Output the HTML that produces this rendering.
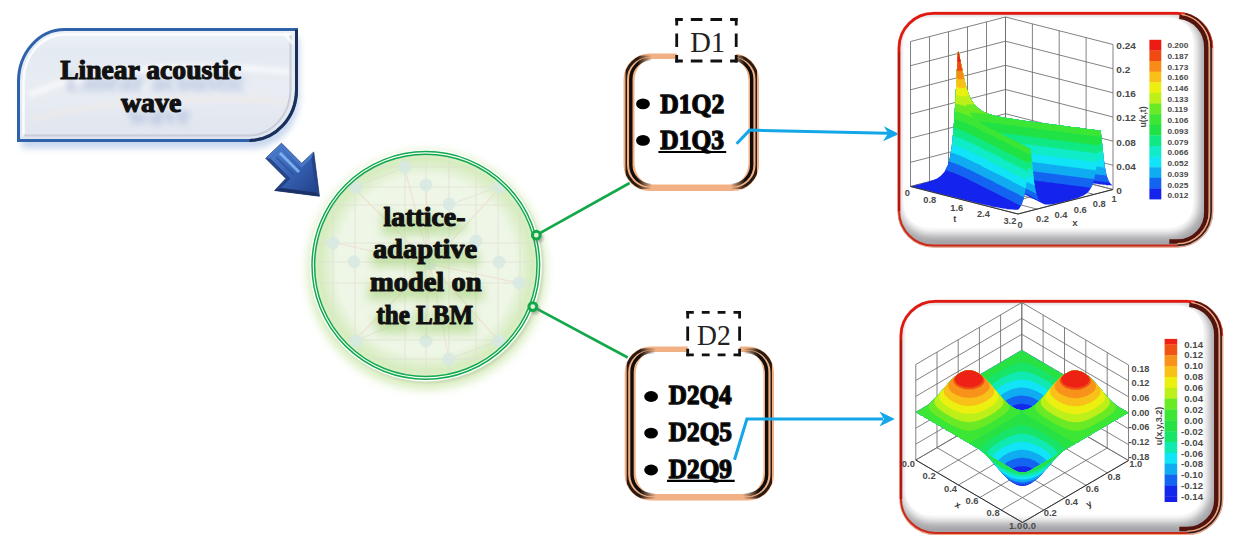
<!DOCTYPE html><html><head><meta charset="utf-8"><style>
html,body{margin:0;padding:0;background:#fff;width:1235px;height:555px;overflow:hidden}
svg{position:absolute;left:0;top:0}
</style></head><body>
<svg width="1235" height="555" viewBox="0 0 1235 555">
<defs>
<linearGradient id="boxfill" x1="0" y1="0" x2="0" y2="1">
<stop offset="0" stop-color="#eef2f7"/><stop offset="0.2" stop-color="#e4eaf2"/>
<stop offset="0.55" stop-color="#e9edf3"/><stop offset="1" stop-color="#dfe4ee"/></linearGradient>
<linearGradient id="arrowg" x1="0" y1="0" x2="1" y2="1">
<stop offset="0" stop-color="#4f7fd0"/><stop offset="0.5" stop-color="#3762b4"/><stop offset="1" stop-color="#22428c"/></linearGradient>
<radialGradient id="circg" cx="0.5" cy="0.5" r="0.5">
<stop offset="0" stop-color="#f1f7ea"/><stop offset="0.78" stop-color="#eef6e6"/>
<stop offset="0.93" stop-color="#d6ecbe"/><stop offset="1" stop-color="#e4f2d6"/></radialGradient>
<filter id="blur2" x="-20%" y="-20%" width="140%" height="140%"><feGaussianBlur stdDeviation="2"/></filter>
<filter id="blur4" x="-20%" y="-20%" width="140%" height="140%"><feGaussianBlur stdDeviation="4"/></filter>
<filter id="blur1" x="-20%" y="-20%" width="140%" height="140%"><feGaussianBlur stdDeviation="1"/></filter>
<filter id="blur3" x="-20%" y="-50%" width="140%" height="200%"><feGaussianBlur stdDeviation="3"/></filter>
<filter id="blur5" x="-30%" y="-80%" width="160%" height="260%"><feGaussianBlur stdDeviation="5"/></filter>
<linearGradient id="sidemaskg" x1="0" y1="0" x2="1" y2="0">
<stop offset="0" stop-color="#fff"/><stop offset="0.09" stop-color="#fff"/><stop offset="0.2" stop-color="#000"/>
<stop offset="0.8" stop-color="#000"/><stop offset="0.91" stop-color="#fff"/><stop offset="1" stop-color="#fff"/></linearGradient>
<mask id="sidemask" maskContentUnits="objectBoundingBox"><rect x="0" y="0" width="1" height="1" fill="url(#sidemaskg)"/></mask>
<clipPath id="circclip"><circle cx="425.8" cy="265.4" r="112"/></clipPath>
</defs>

<path d="M18.5,140.5 L18.5,81.5 A46,52 0 0 1 64.5,29.5 L296.5,29.5 L296.5,89.5 A47,51 0 0 1 249.5,140.5 Z" transform="translate(3,8)" fill="#b8cbe8" opacity="0.75" filter="url(#blur3)"/>
<path d="M18.5,140.5 L18.5,81.5 A46,52 0 0 1 64.5,29.5 L296.5,29.5 L296.5,89.5 A47,51 0 0 1 249.5,140.5 Z" fill="url(#boxfill)"/>
<path d="M30,95 C80,70 180,60 290,72" stroke="#ffffff" stroke-width="6" fill="none" opacity="0.6" filter="url(#blur2)"/>
<path d="M30,120 C100,100 200,95 290,102" stroke="#f5e8e0" stroke-width="4" fill="none" opacity="0.5" filter="url(#blur2)"/>
<path d="M18.5,140.5 L18.5,81.5 A46,52 0 0 1 64.5,29.5 L296.5,29.5 L296.5,89.5 A47,51 0 0 1 249.5,140.5 Z" fill="none" stroke="#2f62aa" stroke-width="3"/>
<path d="M296.5,29.5 L296.5,89.5 A47,51 0 0 1 249.5,140.5" fill="none" stroke="#1b3058" stroke-width="3"/>
<path d="M23.5,136.5 L23.5,81.5 A41,47 0 0 1 64.5,34.5 L290.5,34.5" fill="none" stroke="#ffffff" stroke-width="2.5" opacity="0.85"/>
<path d="M290.5,35.5 L290.5,89.5 A42,46 0 0 1 249.5,135.5 L23.5,135.5" fill="none" stroke="#c0c6d2" stroke-width="2" opacity="0.8"/>
<path d="M284.5,33.5 L292.5,43.5" stroke="#ffffff" stroke-width="3" opacity="0.7"/>
<g filter="url(#blur3)" opacity="0.45"><text transform="translate(65.53,91) scale(0.9829,1)" font-family='"Liberation Serif", serif' font-size="28" font-weight="bold" fill="#7890c8">Linear acoustic</text><text transform="translate(127.92,124) scale(1.0361,1)" font-family='"Liberation Serif", serif' font-size="28" font-weight="bold" fill="#7890c8">wave</text></g>
<text transform="translate(60.13,78.8) scale(0.9867,1)" font-family='"Liberation Serif", serif' font-size="28" font-weight="bold" fill="#111" stroke="#111" stroke-width="1.2" stroke-linejoin="round">Linear acoustic</text>
<text transform="translate(120.92,111.5) scale(0.9960,1)" font-family='"Liberation Serif", serif' font-size="28" font-weight="bold" fill="#111" stroke="#111" stroke-width="1.2" stroke-linejoin="round">wave</text>
<polygon points="281.5,143.2 301.7,163.4 313.7,152 319.4,196.2 274.6,190.5 285.9,178.5 265.7,158.3" fill="#23458a" stroke="#1a3368" stroke-width="0.8"/>
<polygon points="281.5,143.2 301.7,163.4 313.7,152 311.3,158.7 301.6,167.9 281.4,147.7 270.3,158.4 265.7,158.3" fill="#4a78c8"/>
<polygon points="281.4,147.7 270.3,158.4 290.4,178.4 281.2,188.1 315.7,192.5 311.3,158.7 301.6,167.9" fill="url(#arrowg)"/>
<polygon points="274.6,190.5 319.4,196.2 315.7,192.5 281.2,188.1" fill="#1a3268"/>
<polyline points="280,153 299,172" stroke="#90c8ff" stroke-width="3" opacity="0.75"/>
<polyline points="276,157 294,175" stroke="#2a4f98" stroke-width="2" opacity="0.6"/>
<circle cx="426.8" cy="270.4" r="119.5" fill="#d2eab4" opacity="0.85" filter="url(#blur5)"/>
<circle cx="425.8" cy="265.4" r="114.5" fill="url(#circg)"/>
<g clip-path="url(#circclip)" opacity="0.65"><line x1="300" y1="167" x2="550" y2="167" stroke="#deded4" stroke-width="1.1"/><line x1="300" y1="187" x2="550" y2="187" stroke="#deded4" stroke-width="1.1"/><line x1="300" y1="205" x2="550" y2="205" stroke="#deded4" stroke-width="1.1"/><line x1="300" y1="243" x2="550" y2="243" stroke="#deded4" stroke-width="1.1"/><line x1="300" y1="262" x2="550" y2="262" stroke="#deded4" stroke-width="1.1"/><line x1="300" y1="283" x2="550" y2="283" stroke="#deded4" stroke-width="1.1"/><line x1="300" y1="340" x2="550" y2="340" stroke="#deded4" stroke-width="1.1"/><line x1="300" y1="359" x2="550" y2="359" stroke="#deded4" stroke-width="1.1"/><line x1="333" y1="140" x2="333" y2="390" stroke="#deded4" stroke-width="1.1"/><line x1="355" y1="140" x2="355" y2="390" stroke="#deded4" stroke-width="1.1"/><line x1="405" y1="140" x2="405" y2="390" stroke="#deded4" stroke-width="1.1"/><line x1="426" y1="140" x2="426" y2="390" stroke="#deded4" stroke-width="1.1"/><line x1="449" y1="140" x2="449" y2="390" stroke="#deded4" stroke-width="1.1"/><line x1="476" y1="140" x2="476" y2="390" stroke="#deded4" stroke-width="1.1"/><line x1="498" y1="140" x2="498" y2="390" stroke="#deded4" stroke-width="1.1"/><line x1="520" y1="140" x2="520" y2="390" stroke="#deded4" stroke-width="1.1"/><line x1="355" y1="187" x2="405" y2="167" stroke="#deded4" stroke-width="1.1"/><line x1="449" y1="205" x2="498" y2="187" stroke="#deded4" stroke-width="1.1"/><line x1="355" y1="341" x2="405" y2="320" stroke="#deded4" stroke-width="1.1"/><line x1="449" y1="359" x2="498" y2="341" stroke="#deded4" stroke-width="1.1"/><line x1="430" y1="264" x2="405" y2="170" stroke="#f0d8c8" stroke-width="1.2"/><line x1="430" y1="264" x2="426" y2="190" stroke="#f0d8c8" stroke-width="1.2"/><line x1="430" y1="264" x2="498" y2="190" stroke="#f0d8c8" stroke-width="1.2"/><line x1="430" y1="264" x2="336" y2="243" stroke="#f0d8c8" stroke-width="1.2"/><line x1="430" y1="264" x2="519" y2="283" stroke="#f0d8c8" stroke-width="1.2"/><line x1="430" y1="264" x2="355" y2="340" stroke="#f0d8c8" stroke-width="1.2"/><line x1="430" y1="264" x2="426" y2="340" stroke="#f0d8c8" stroke-width="1.2"/><line x1="430" y1="264" x2="498" y2="340" stroke="#f0d8c8" stroke-width="1.2"/><line x1="430" y1="264" x2="449" y2="359" stroke="#f0d8c8" stroke-width="1.2"/><line x1="430" y1="264" x2="356" y2="190" stroke="#f0d8c8" stroke-width="1.2"/></g>
<g clip-path="url(#circclip)"><circle cx="405" cy="167" r="6.5" fill="#d6e8e4" opacity="0.8"/><circle cx="356" cy="187" r="6.5" fill="#d6e8e4" opacity="0.8"/><circle cx="426" cy="185" r="6.5" fill="#d6e8e4" opacity="0.8"/><circle cx="449" cy="204" r="6.5" fill="#d6e8e4" opacity="0.8"/><circle cx="499" cy="187" r="6.5" fill="#d6e8e4" opacity="0.8"/><circle cx="333" cy="243" r="6.5" fill="#d6e8e4" opacity="0.8"/><circle cx="354" cy="262" r="6.5" fill="#d6e8e4" opacity="0.8"/><circle cx="430" cy="264" r="6.5" fill="#d6e8e4" opacity="0.8"/><circle cx="476" cy="241" r="6.5" fill="#d6e8e4" opacity="0.8"/><circle cx="499" cy="262" r="6.5" fill="#d6e8e4" opacity="0.8"/><circle cx="519" cy="283" r="6.5" fill="#d6e8e4" opacity="0.8"/><circle cx="356" cy="341" r="6.5" fill="#d6e8e4" opacity="0.8"/><circle cx="426" cy="341" r="6.5" fill="#d6e8e4" opacity="0.8"/><circle cx="499" cy="341" r="6.5" fill="#d6e8e4" opacity="0.8"/><circle cx="449" cy="359" r="6.5" fill="#d6e8e4" opacity="0.8"/></g>
<g filter="url(#blur5)" opacity="0.6"><text transform="translate(382.95,232.7) scale(1.0097,1)" font-family='"Liberation Serif", serif' font-size="28" font-weight="bold" fill="#a8d480" stroke="#a8d480" stroke-width="5">lattice-</text><text transform="translate(372.27,265.2) scale(1.0282,1)" font-family='"Liberation Serif", serif' font-size="28" font-weight="bold" fill="#a8d480" stroke="#a8d480" stroke-width="5">adaptive</text><text transform="translate(369.33,297.7) scale(1.0286,1)" font-family='"Liberation Serif", serif' font-size="28" font-weight="bold" fill="#a8d480" stroke="#a8d480" stroke-width="5">model on</text><text transform="translate(375.79,330.8) scale(0.9069,1)" font-family='"Liberation Serif", serif' font-size="28" font-weight="bold" fill="#a8d480" stroke="#a8d480" stroke-width="5">the LBM</text></g>
<circle cx="427.8" cy="267.4" r="114.5" fill="none" stroke="#888" stroke-width="2.5" opacity="0.25" filter="url(#blur1)"/>
<circle cx="425.8" cy="265.4" r="113.7" fill="none" stroke="#fff" stroke-width="4.6"/>
<circle cx="425.8" cy="265.4" r="113.8" fill="none" stroke="#12aa4c" stroke-width="1.5"/>
<circle cx="425.8" cy="265.4" r="111.2" fill="none" stroke="#12aa4c" stroke-width="1.5"/>
<text transform="translate(383.56,225.7) scale(0.9949,1)" font-family='"Liberation Serif", serif' font-size="28" font-weight="bold" fill="#111" stroke="#111" stroke-width="1.2" stroke-linejoin="round">lattice-</text>
<text transform="translate(372.88,258.2) scale(1.0163,1)" font-family='"Liberation Serif", serif' font-size="28" font-weight="bold" fill="#111" stroke="#111" stroke-width="1.2" stroke-linejoin="round">adaptive</text>
<text transform="translate(369.93,290.7) scale(1.0175,1)" font-family='"Liberation Serif", serif' font-size="28" font-weight="bold" fill="#111" stroke="#111" stroke-width="1.2" stroke-linejoin="round">model on</text>
<text transform="translate(376.40,323.8) scale(0.8957,1)" font-family='"Liberation Serif", serif' font-size="28" font-weight="bold" fill="#111" stroke="#111" stroke-width="1.2" stroke-linejoin="round">the LBM</text>
<line x1="536.3" y1="235.2" x2="629.7" y2="183" stroke="#12a84a" stroke-width="2.6"/>
<line x1="532.8" y1="306.6" x2="627.7" y2="357.5" stroke="#12a84a" stroke-width="2.6"/>
<circle cx="538.5" cy="238" r="5" fill="#777" opacity="0.45" filter="url(#blur1)"/>
<circle cx="535" cy="309.5" r="5" fill="#777" opacity="0.45" filter="url(#blur1)"/>
<circle cx="536.3" cy="235.2" r="3.9" fill="#dff0d8" stroke="#12a84a" stroke-width="3"/>
<circle cx="532.8" cy="306.6" r="3.9" fill="#dff0d8" stroke="#12a84a" stroke-width="3"/>
<rect x="623.5" y="53.5" width="135.5" height="137.5" rx="26" fill="#f2b185"/><rect x="634.5" y="59.0" width="114.0" height="125.5" rx="18" ry="22" fill="#fff"/><g mask="url(#sidemask)"><rect x="625.5" y="55.5" width="131.5" height="133.5" rx="24" fill="none" stroke="#2a1a12" stroke-width="3"/><rect x="630.8" y="59.0" width="120.9" height="126.0" rx="20" fill="none" stroke="#120d0b" stroke-width="3.4"/></g>
<rect x="624.7" y="346.4" width="149.29999999999995" height="154.20000000000005" rx="26" fill="#f2b185"/><rect x="635.7" y="351.9" width="127.79999999999995" height="142.20000000000005" rx="18" ry="22" fill="#fff"/><g mask="url(#sidemask)"><rect x="626.7" y="348.4" width="145.29999999999995" height="150.20000000000005" rx="24" fill="none" stroke="#2a1a12" stroke-width="3"/><rect x="632.0" y="351.9" width="134.69999999999996" height="142.70000000000005" rx="20" fill="none" stroke="#120d0b" stroke-width="3.4"/></g>
<rect x="676.6999999999999" y="19.5" width="59.50000000000007" height="41.5" fill="#fff"/><line x1="675.3" y1="19.5" x2="737.6" y2="19.5" stroke="#111" stroke-width="2.8" stroke-dasharray="7.50 8.00 11.65 8.00 11.65 8.00 107.50"/><line x1="736.2" y1="18.1" x2="736.2" y2="62.4" stroke="#111" stroke-width="2.8" stroke-dasharray="7.50 8.00 13.30 8.00 107.50"/><line x1="737.6" y1="61.0" x2="675.3" y2="61.0" stroke="#111" stroke-width="2.8" stroke-dasharray="7.50 8.00 11.65 8.00 11.65 8.00 107.50"/><line x1="676.6999999999999" y1="62.4" x2="676.6999999999999" y2="18.1" stroke="#111" stroke-width="2.8" stroke-dasharray="7.50 8.00 13.30 8.00 107.50"/>
<text transform="translate(690.18,51.6) scale(0.9658,1)" font-family='"Liberation Serif", serif' font-size="29.6" font-weight="normal" fill="#222">D1</text>
<rect x="687.6999999999999" y="312.4" width="51.90000000000005" height="42.500000000000014" fill="#fff"/><line x1="686.3" y1="312.4" x2="741" y2="312.4" stroke="#111" stroke-width="2.8" stroke-dasharray="7.50 8.00 7.85 8.00 7.85 8.00 107.50"/><line x1="739.6" y1="311" x2="739.6" y2="356.3" stroke="#111" stroke-width="2.8" stroke-dasharray="7.50 8.00 14.30 8.00 107.50"/><line x1="741" y1="354.90000000000003" x2="686.3" y2="354.90000000000003" stroke="#111" stroke-width="2.8" stroke-dasharray="7.50 8.00 7.85 8.00 7.85 8.00 107.50"/><line x1="687.6999999999999" y1="356.3" x2="687.6999999999999" y2="311" stroke="#111" stroke-width="2.8" stroke-dasharray="7.50 8.00 14.30 8.00 107.50"/>
<text transform="translate(697.01,345) scale(0.9320,1)" font-family='"Liberation Serif", serif' font-size="29.6" font-weight="normal" fill="#222">D2</text>
<ellipse cx="643" cy="103.9" rx="6.9" ry="5.4" fill="#000"/><text transform="translate(660.30,112.7) scale(0.9136,1)" font-family='"Liberation Serif", serif' font-size="28" font-weight="bold" fill="#000" stroke="#111" stroke-width="1.5" stroke-linejoin="round">D1Q2</text>
<ellipse cx="643" cy="140.4" rx="6.9" ry="5.4" fill="#000"/><text transform="translate(660.30,149.2) scale(0.9103,1)" font-family='"Liberation Serif", serif' font-size="28" font-weight="bold" fill="#000" stroke="#111" stroke-width="1.5" stroke-linejoin="round">D1Q3</text><line x1="658.4" y1="152.0" x2="726.2" y2="152.0" stroke="#000" stroke-width="2.2"/>
<ellipse cx="651.1" cy="396.5" rx="6.9" ry="5.4" fill="#000"/><text transform="translate(668.81,404) scale(0.8958,1)" font-family='"Liberation Serif", serif' font-size="28" font-weight="bold" fill="#000" stroke="#111" stroke-width="1.5" stroke-linejoin="round">D2Q4</text>
<ellipse cx="651.1" cy="433.1" rx="6.9" ry="5.4" fill="#000"/><text transform="translate(668.81,441) scale(0.9024,1)" font-family='"Liberation Serif", serif' font-size="28" font-weight="bold" fill="#000" stroke="#111" stroke-width="1.5" stroke-linejoin="round">D2Q5</text>
<ellipse cx="651.1" cy="470" rx="6.9" ry="5.4" fill="#000"/><text transform="translate(668.81,478) scale(0.9022,1)" font-family='"Liberation Serif", serif' font-size="28" font-weight="bold" fill="#000" stroke="#111" stroke-width="1.5" stroke-linejoin="round">D2Q9</text><line x1="667" y1="480.8" x2="734.7" y2="480.8" stroke="#000" stroke-width="2.2"/>
<polyline points="736.6,143.8 749.7,130.1 888,133.3" fill="none" stroke="#13a6e8" stroke-width="3"/>
<polygon points="899.1,134 883.8,126.3 888.2,133.3 883,141.3" fill="#13a6e8"/>
<polyline points="734.5,459.8 746.9,419 883,419" fill="none" stroke="#13a6e8" stroke-width="3"/>
<polygon points="894.8,419 879.5,411.4 883.9,419 879.5,426.5" fill="#13a6e8"/>
<clipPath id="p1clip"><rect x="897.5" y="11.8" width="315.79999999999995" height="235.79999999999998" rx="36"/></clipPath><g clip-path="url(#p1clip)"><rect x="897.5" y="11.8" width="315.79999999999995" height="235.79999999999998" fill="#a4a4a8"/><rect x="898.5" y="12.8" width="300.79999999999995" height="221.79999999999998" rx="31" fill="#fff" filter="url(#blur4)"/><rect x="903.5" y="17.8" width="289.79999999999995" height="209.79999999999998" rx="24" fill="#fff"/></g><rect x="898.0" y="12.3" width="314.79999999999995" height="234.79999999999998" rx="36" fill="none" stroke="#f3a58a" stroke-width="1.2"/><path d="M899.1,211.6 L899.1,47.8 A34.4,34.4 0 0 1 933.5,13.4 L1177.3,13.4 A34.4,34.4 0 0 1 1211.7,47.8" fill="none" stroke="#e01810" stroke-width="2.6"/><path d="M898.9,51.8 L898.9,211.6" fill="none" stroke="#9a1a10" stroke-width="1.4"/><path d="M1179.3,16.8 A30,30 0 0 1 1206.3,47.8 L1206.3,211.6 A29,29 0 0 1 1177.3,241.6 L1169.3,241.6" fill="none" stroke="#4e0c05" stroke-width="4.5" opacity="0.95"/><path d="M1181.3,14.3 A33,33 0 0 1 1209.5,47.8 L1209.5,211.6 A32.2,32.2 0 0 1 1177.3,243.79999999999998" fill="none" stroke="#f0a27a" stroke-width="1.5"/><path d="M1185.3,13.8 A34,34 0 0 1 1211.1,47.8 L1211.1,211.6 A33.8,33.8 0 0 1 1177.3,245.4" fill="none" stroke="#3c1a10" stroke-width="1.6"/><path d="M899.1,211.6 A34.4,34.4 0 0 0 933.5,245.6 L1177.3,245.6" fill="none" stroke="#cc2a18" stroke-width="2"/>
<clipPath id="p2clip"><rect x="899.4" y="299.8" width="323.9" height="235.2" rx="36"/></clipPath><g clip-path="url(#p2clip)"><rect x="899.4" y="299.8" width="323.9" height="235.2" fill="#a4a4a8"/><rect x="900.4" y="300.8" width="308.9" height="221.2" rx="31" fill="#fff" filter="url(#blur4)"/><rect x="905.4" y="305.8" width="297.9" height="209.2" rx="24" fill="#fff"/></g><rect x="899.9" y="300.3" width="322.9" height="234.2" rx="36" fill="none" stroke="#f3a58a" stroke-width="1.2"/><path d="M901.0,499 L901.0,335.8 A34.4,34.4 0 0 1 935.4,301.40000000000003 L1187.3,301.40000000000003 A34.4,34.4 0 0 1 1221.7,335.8" fill="none" stroke="#e01810" stroke-width="2.6"/><path d="M900.8,339.8 L900.8,499" fill="none" stroke="#9a1a10" stroke-width="1.4"/><path d="M1189.3,304.8 A30,30 0 0 1 1216.3,335.8 L1216.3,499 A29,29 0 0 1 1187.3,529 L1179.3,529" fill="none" stroke="#4e0c05" stroke-width="4.5" opacity="0.95"/><path d="M1191.3,302.3 A33,33 0 0 1 1219.5,335.8 L1219.5,499 A32.2,32.2 0 0 1 1187.3,531.2" fill="none" stroke="#f0a27a" stroke-width="1.5"/><path d="M1195.3,301.8 A34,34 0 0 1 1221.1,335.8 L1221.1,499 A33.8,33.8 0 0 1 1187.3,532.8" fill="none" stroke="#3c1a10" stroke-width="1.6"/><path d="M901.0,499 A34.4,34.4 0 0 0 935.4,533 L1187.3,533" fill="none" stroke="#cc2a18" stroke-width="2"/>
<g><line x1="910.5" y1="186.5" x2="910.5" y2="41.5" stroke="#6c6c6c" stroke-width="0.85" fill="none"/><line x1="929.5" y1="181.6" x2="929.5" y2="36.6" stroke="#6c6c6c" stroke-width="0.85" fill="none"/><line x1="948.5" y1="176.7" x2="948.5" y2="31.7" stroke="#6c6c6c" stroke-width="0.85" fill="none"/><line x1="967.5" y1="171.8" x2="967.5" y2="26.8" stroke="#6c6c6c" stroke-width="0.85" fill="none"/><line x1="986.5" y1="166.9" x2="986.5" y2="21.9" stroke="#6c6c6c" stroke-width="0.85" fill="none"/><line x1="1005.5" y1="162.0" x2="1005.5" y2="17.0" stroke="#6c6c6c" stroke-width="0.85" fill="none"/><line x1="910.5" y1="186.5" x2="1005.5" y2="162.0" stroke="#6c6c6c" stroke-width="0.85" fill="none"/><line x1="910.5" y1="162.3" x2="1005.5" y2="137.8" stroke="#6c6c6c" stroke-width="0.85" fill="none"/><line x1="910.5" y1="138.2" x2="1005.5" y2="113.7" stroke="#6c6c6c" stroke-width="0.85" fill="none"/><line x1="910.5" y1="114.0" x2="1005.5" y2="89.5" stroke="#6c6c6c" stroke-width="0.85" fill="none"/><line x1="910.5" y1="89.8" x2="1005.5" y2="65.3" stroke="#6c6c6c" stroke-width="0.85" fill="none"/><line x1="910.5" y1="65.7" x2="1005.5" y2="41.2" stroke="#6c6c6c" stroke-width="0.85" fill="none"/><line x1="910.5" y1="41.5" x2="1005.5" y2="17.0" stroke="#6c6c6c" stroke-width="0.85" fill="none"/><line x1="1005.5" y1="162.0" x2="1005.5" y2="17.0" stroke="#6c6c6c" stroke-width="0.85" fill="none"/><line x1="1032.4" y1="168.9" x2="1032.4" y2="23.9" stroke="#6c6c6c" stroke-width="0.85" fill="none"/><line x1="1059.2" y1="175.8" x2="1059.2" y2="30.8" stroke="#6c6c6c" stroke-width="0.85" fill="none"/><line x1="1086.1" y1="182.6" x2="1086.1" y2="37.6" stroke="#6c6c6c" stroke-width="0.85" fill="none"/><line x1="1113.0" y1="189.5" x2="1113.0" y2="44.5" stroke="#6c6c6c" stroke-width="0.85" fill="none"/><line x1="1005.5" y1="162.0" x2="1113.0" y2="189.5" stroke="#6c6c6c" stroke-width="0.85" fill="none"/><line x1="1005.5" y1="137.8" x2="1113.0" y2="165.3" stroke="#6c6c6c" stroke-width="0.85" fill="none"/><line x1="1005.5" y1="113.7" x2="1113.0" y2="141.2" stroke="#6c6c6c" stroke-width="0.85" fill="none"/><line x1="1005.5" y1="89.5" x2="1113.0" y2="117.0" stroke="#6c6c6c" stroke-width="0.85" fill="none"/><line x1="1005.5" y1="65.3" x2="1113.0" y2="92.8" stroke="#6c6c6c" stroke-width="0.85" fill="none"/><line x1="1005.5" y1="41.2" x2="1113.0" y2="68.7" stroke="#6c6c6c" stroke-width="0.85" fill="none"/><line x1="1005.5" y1="17.0" x2="1113.0" y2="44.5" stroke="#6c6c6c" stroke-width="0.85" fill="none"/><line x1="910.5" y1="186.5" x2="1018.0" y2="214.0" stroke="#6c6c6c" stroke-width="0.85" fill="none"/><line x1="929.5" y1="181.6" x2="1037.0" y2="209.1" stroke="#6c6c6c" stroke-width="0.85" fill="none"/><line x1="948.5" y1="176.7" x2="1056.0" y2="204.2" stroke="#6c6c6c" stroke-width="0.85" fill="none"/><line x1="967.5" y1="171.8" x2="1075.0" y2="199.3" stroke="#6c6c6c" stroke-width="0.85" fill="none"/><line x1="986.5" y1="166.9" x2="1094.0" y2="194.4" stroke="#6c6c6c" stroke-width="0.85" fill="none"/><line x1="1005.5" y1="162.0" x2="1113.0" y2="189.5" stroke="#6c6c6c" stroke-width="0.85" fill="none"/><line x1="910.5" y1="186.5" x2="1005.5" y2="162.0" stroke="#6c6c6c" stroke-width="0.85" fill="none"/><line x1="937.4" y1="193.4" x2="1032.4" y2="168.9" stroke="#6c6c6c" stroke-width="0.85" fill="none"/><line x1="964.2" y1="200.2" x2="1059.2" y2="175.8" stroke="#6c6c6c" stroke-width="0.85" fill="none"/><line x1="991.1" y1="207.1" x2="1086.1" y2="182.6" stroke="#6c6c6c" stroke-width="0.85" fill="none"/><line x1="1018.0" y1="214.0" x2="1113.0" y2="189.5" stroke="#6c6c6c" stroke-width="0.85" fill="none"/><path fill="#1424ec" fill-rule="evenodd" d="M958.2 50.5 958.2 51.8 957.8 52.2 957.8 56.8 957.5 57.2 957.5 62.5 957.2 62.8 957.2 68.8 956.8 69.2 956.8 75.2 956.5 75.5 956.5 82.2 956.2 82.5 956.2 88.8 955.8 89.2 955.5 101.5 955.2 101.8 955.2 107.5 954.8 107.8 954.8 113.2 954.5 113.5 954.5 118.2 954.2 118.5 954.2 122.8 953.8 123.2 953.5 131.5 953.2 131.8 953.2 134.8 952.8 135.2 952.5 141.5 952.2 141.8 952.2 144.2 951.8 144.5 951.8 146.8 951.5 147.2 951.5 149.2 951.2 149.5 950.8 153.2 950.5 153.5 949.8 158.2 949.5 158.5 949.5 159.5 949.2 159.8 949.2 160.8 948.5 162.2 948.5 163.2 948.2 163.5 947.8 165.2 944.5 171.8 940.8 175.8 937.5 178.2 934.8 179.5 934.2 179.5 933.2 180.2 932.5 180.2 931.5 180.8 930.8 180.8 927.5 182.2 926.5 182.2 926.2 182.5 924.2 182.8 922.8 183.5 921.8 183.5 920.5 184.2 919.5 184.2 919.2 184.5 916.8 184.8 915.5 185.5 914.5 185.5 914.2 185.8 910.8 186.5 915.8 187.5 917.2 188.2 918.2 188.2 918.5 188.5 919.5 188.5 919.8 188.8 920.8 188.8 921.2 189.2 922.2 189.2 922.5 189.5 923.5 189.5 923.8 189.8 928.8 190.8 930.2 191.5 931.2 191.5 931.5 191.8 932.5 191.8 932.8 192.2 933.8 192.2 934.2 192.5 935.2 192.5 935.5 192.8 936.5 192.8 936.8 193.2 937.8 193.2 938.2 193.5 939.2 193.5 939.5 193.8 940.5 193.8 940.8 194.2 941.8 194.2 942.2 194.5 943.2 194.5 943.5 194.8 944.5 194.8 944.8 195.2 945.8 195.2 946.2 195.5 947.2 195.5 947.5 195.8 948.5 195.8 948.8 196.2 949.8 196.2 950.2 196.5 951.2 196.5 951.5 196.8 952.5 196.8 952.8 197.2 953.8 197.2 954.2 197.5 955.2 197.5 955.5 197.8 956.5 197.8 956.8 198.2 957.8 198.2 958.2 198.5 959.2 198.5 959.5 198.8 960.5 198.8 960.8 199.2 961.8 199.2 962.2 199.5 963.2 199.5 963.5 199.8 964.5 199.8 964.8 200.2 965.8 200.2 966.2 200.5 967.2 200.5 967.5 200.8 968.5 200.8 968.8 201.2 969.8 201.2 970.2 201.5 971.2 201.5 971.5 201.8 972.5 201.8 972.8 202.2 973.8 202.2 975.5 202.8 976.8 202.8 977.2 203.2 978.2 203.2 979.8 203.8 981.2 203.8 981.5 204.2 982.5 204.2 984.2 204.8 985.5 204.8 987.2 205.5 988.5 205.5 988.8 205.8 990.2 205.8 991.8 206.5 993.2 206.5 993.5 206.8 994.8 206.8 995.2 207.2 996.5 207.2 996.8 207.5 998.5 207.5 998.8 207.8 1000.2 207.8 1000.5 208.2 1002.2 208.2 1002.5 208.5 1004.2 208.5 1004.5 208.8 1006.5 208.8 1006.8 209.2 1013.2 209.5 1013.5 209.8 1018.2 209.8 1020.2 207.2 1022.2 203.2 1022.2 202.5 1023.5 199.2 1023.5 198.2 1024.2 196.8 1024.2 195.5 1024.8 194.5 1044.2 204.2 1044.8 204.2 1045.2 204.5 1052.2 204.5 1052.5 204.2 1054.2 204.2 1054.5 203.8 1059.2 203.2 1059.5 202.8 1060.5 202.8 1060.8 202.5 1061.8 202.5 1062.2 202.2 1063.2 202.2 1063.5 201.8 1068.5 200.8 1072.2 199.5 1073.2 199.5 1073.5 199.2 1079.2 197.5 1080.8 196.5 1081.5 196.5 1083.5 195.5 1086.5 193.5 1088.8 191.2 1090.5 188.8 1092.5 184.8 1092.5 184.2 1093.2 183.5 1097.5 183.8 1097.8 184.2 1100.2 184.2 1100.5 184.5 1102.8 184.5 1103.2 184.8 1105.8 184.8 1106.2 185.2 1111.5 185.2 1111.8 185.5 1112.5 185.5 1109.5 182.5 1109.2 181.5 1108.5 180.8 1108.2 179.5 1107.5 178.5 1107.5 177.8 1106.5 175.5 1106.2 173.2 1105.8 172.8 1105.8 171.5 1105.5 171.2 1105.5 169.8 1105.2 169.5 1105.2 168.2 1104.8 167.8 1104.8 166.2 1104.5 165.8 1104.2 161.5 1103.8 161.2 1103.5 155.8 1103.2 155.5 1103.2 152.8 1102.8 152.5 1102.8 149.8 1102.5 149.5 1102.5 146.5 1102.2 146.2 1102.2 143.5 1101.8 143.2 1101.8 140.2 1101.5 139.8 1101.5 137.2 1101.2 136.8 1101.2 134.5 1100.8 134.2 1100.5 130.5 1097.5 130.5 1097.2 130.2 1095.2 130.2 1094.8 129.8 1092.8 129.8 1092.5 129.5 1090.5 129.5 1090.2 129.2 1086.8 129.2 1086.5 128.8 1084.5 128.8 1084.2 128.5 1080.2 128.2 1079.8 127.8 1077.8 127.8 1077.5 127.5 1076.8 127.5 1076.5 127.8 1076.2 127.5 1069.5 126.8 1069.2 126.5 1067.5 126.5 1067.2 126.2 1063.8 126.2 1063.5 125.8 1061.5 125.8 1061.2 125.5 1059.2 125.5 1058.8 125.2 1056.8 125.2 1056.5 124.8 1054.5 124.8 1054.2 124.5 1053.5 124.8 1053.2 124.5 1051.2 124.5 1050.8 124.2 1048.8 124.2 1048.5 123.8 1046.5 123.8 1046.2 123.5 1044.2 123.5 1043.8 123.2 1040.8 123.2 1040.5 122.8 1033.8 122.2 1033.5 121.8 1031.8 121.8 1031.5 121.5 1028.2 121.5 1027.8 121.2 1025.8 121.2 1025.5 120.8 1023.8 120.8 1023.5 120.5 1019.2 120.2 1018.8 119.8 1014.8 119.5 1014.5 119.2 1012.8 119.2 1012.5 118.8 1010.5 118.8 1010.2 118.5 1008.5 118.5 1008.2 118.2 1006.5 118.2 1006.2 117.8 1000.5 117.2 1000.2 116.8 998.8 116.8 997.5 116.2 994.5 115.8 993.5 115.2 992.2 115.2 991.8 114.8 988.2 113.8 987.2 113.2 986.2 113.2 985.5 112.5 984.8 112.5 982.2 111.2 981.2 110.2 980.2 109.8 979.2 108.8 977.8 108.2 973.5 103.5 972.5 101.5 971.5 100.5 968.2 93.2 968.2 92.5 966.5 88.2 966.5 87.2 965.5 84.8 964.8 81.2 964.5 80.8 964.5 79.5 964.2 79.2 964.2 78.2 963.5 76.5 963.5 75.2 963.2 74.8 963.2 73.5 962.8 73.2 962.2 68.5 961.5 66.8 961.5 65.2 961.2 64.8 960.5 60.2 959.8 58.5 959.8 57.2 959.5 56.8 959.2 54.2 958.2 51.5z"/><path fill="#1464f2" fill-rule="evenodd" d="M958.2 50.5 958.2 51.8 957.8 52.2 957.8 56.8 957.5 57.2 957.5 62.5 957.2 62.8 957.2 68.8 956.8 69.2 956.8 75.2 956.5 75.5 956.5 82.2 956.2 82.5 956.2 88.8 955.8 89.2 955.8 95.2 955.5 95.5 955.5 101.5 955.2 101.8 954.8 113.2 954.5 113.5 954.5 118.2 954.2 118.5 953.8 127.5 953.5 127.8 953.5 131.5 953.2 131.8 953.2 134.8 952.8 135.2 952.5 141.5 952.2 141.8 951.8 146.8 951.5 147.2 951.5 149.2 951.2 149.5 951.2 151.2 950.8 151.5 950.8 153.2 950.5 153.5 949.8 158.2 949.5 158.5 949.5 159.5 949.2 159.8 949.2 160.8 948.5 162.2 948.5 163.2 948.2 163.5 947.8 165.2 945.5 169.8 945.8 170.5 948.2 170.8 949.2 171.5 950.2 171.5 951.2 172.2 952.2 172.2 953.2 172.8 953.8 172.8 957.5 174.5 958.2 174.5 961.8 176.5 962.5 176.5 1013.8 202.2 1014.5 202.8 1020.5 205.8 1020.8 205.8 1022.2 203.2 1022.2 202.5 1023.5 199.2 1023.5 198.2 1024.2 196.8 1024.5 194.2 1025.2 193.5 1032.2 196.8 1032.8 197.5 1039.5 200.8 1037.5 197.2 1037.5 196.5 1036.2 193.2 1036.2 192.2 1035.5 190.5 1035.5 189.2 1035.2 188.8 1035.2 187.5 1034.8 187.2 1034.5 183.5 1034.2 183.2 1034.2 181.2 1033.8 180.8 1034.2 180.5 1038.2 180.8 1038.5 181.2 1040.5 181.2 1040.8 181.5 1041.2 181.2 1041.5 181.5 1043.5 181.5 1043.8 181.8 1045.8 181.8 1046.2 182.2 1051.5 182.5 1051.8 182.8 1053.8 182.8 1054.2 183.2 1056.2 183.2 1056.5 183.5 1058.5 183.5 1058.8 183.8 1059.2 183.5 1059.5 183.8 1064.2 184.2 1064.5 184.5 1066.5 184.5 1066.8 184.8 1068.8 184.8 1069.2 185.2 1069.5 184.8 1069.8 185.2 1074.5 185.5 1074.8 185.8 1076.8 185.8 1077.2 186.2 1079.2 186.2 1079.5 186.5 1079.8 186.2 1080.2 186.5 1082.5 186.5 1082.8 186.8 1084.8 186.8 1085.2 187.2 1087.2 187.2 1087.5 187.5 1089.5 187.5 1089.8 187.8 1090.2 187.5 1090.5 187.8 1091.2 187.5 1092.5 184.8 1092.5 184.2 1093.8 180.8 1096.2 180.8 1096.5 181.2 1101.2 181.5 1101.5 181.8 1104.2 181.8 1104.5 182.2 1106.8 182.2 1107.2 182.5 1108.8 182.5 1109.2 182.8 1109.8 182.8 1108.5 180.8 1108.2 179.5 1107.5 178.5 1107.5 177.8 1106.5 175.5 1106.5 174.5 1105.8 172.8 1105.8 171.5 1105.5 171.2 1105.5 169.8 1105.2 169.5 1105.2 168.2 1104.8 167.8 1104.5 163.8 1104.2 163.5 1104.2 161.5 1103.8 161.2 1103.8 158.8 1103.5 158.5 1103.5 155.8 1103.2 155.5 1103.2 152.8 1102.8 152.5 1102.8 149.8 1102.5 149.5 1102.5 146.5 1102.2 146.2 1102.2 143.5 1101.8 143.2 1101.8 140.2 1101.5 139.8 1101.5 137.2 1101.2 136.8 1101.2 134.5 1100.8 134.2 1100.5 130.5 1097.5 130.5 1097.2 130.2 1095.2 130.2 1094.8 129.8 1092.8 129.8 1092.5 129.5 1090.5 129.5 1090.2 129.2 1086.8 129.2 1086.5 128.8 1084.5 128.8 1084.2 128.5 1080.2 128.2 1079.8 127.8 1077.8 127.8 1077.5 127.5 1076.8 127.5 1076.5 127.8 1076.2 127.5 1069.5 126.8 1069.2 126.5 1067.5 126.5 1067.2 126.2 1063.8 126.2 1063.5 125.8 1061.5 125.8 1061.2 125.5 1059.2 125.5 1058.8 125.2 1056.8 125.2 1056.5 124.8 1054.5 124.8 1054.2 124.5 1053.5 124.8 1053.2 124.5 1051.2 124.5 1050.8 124.2 1048.8 124.2 1048.5 123.8 1046.5 123.8 1046.2 123.5 1044.2 123.5 1043.8 123.2 1040.8 123.2 1040.5 122.8 1033.8 122.2 1033.5 121.8 1031.8 121.8 1031.5 121.5 1028.2 121.5 1027.8 121.2 1025.8 121.2 1025.5 120.8 1023.8 120.8 1023.5 120.5 1019.2 120.2 1018.8 119.8 1014.8 119.5 1014.5 119.2 1012.8 119.2 1012.5 118.8 1010.5 118.8 1010.2 118.5 1008.5 118.5 1008.2 118.2 1006.5 118.2 1006.2 117.8 1000.5 117.2 1000.2 116.8 998.8 116.8 997.5 116.2 994.5 115.8 993.5 115.2 992.2 115.2 991.8 114.8 988.2 113.8 987.2 113.2 986.2 113.2 985.5 112.5 984.8 112.5 982.2 111.2 981.2 110.2 980.2 109.8 979.2 108.8 977.8 108.2 973.5 103.5 972.5 101.5 971.5 100.5 968.2 93.2 968.2 92.5 966.5 88.2 966.5 87.2 965.5 84.8 964.8 81.2 964.5 80.8 964.5 79.5 964.2 79.2 964.2 78.2 963.5 76.5 963.5 75.2 963.2 74.8 963.2 73.5 962.8 73.2 962.2 68.5 961.5 66.8 961.5 65.2 961.2 64.8 960.5 60.2 959.8 58.5 959.8 57.2 959.5 56.8 959.2 54.2 958.2 51.5z"/><path fill="#10acf2" fill-rule="evenodd" d="M958.2 50.5 958.2 51.8 957.8 52.2 957.8 56.8 957.5 57.2 957.5 62.5 957.2 62.8 957.2 68.8 956.8 69.2 956.8 75.2 956.5 75.5 956.5 82.2 956.2 82.5 956.2 88.8 955.8 89.2 955.5 101.5 955.2 101.8 955.2 107.5 954.8 107.8 954.8 113.2 954.5 113.5 954.5 118.2 954.2 118.5 954.2 122.8 953.8 123.2 953.5 131.5 953.2 131.8 953.2 134.8 952.8 135.2 952.8 138.2 952.5 138.5 952.5 141.5 952.2 141.8 952.2 144.2 951.8 144.5 951.5 149.2 951.2 149.5 951.2 151.2 950.8 151.5 950.8 153.2 950.5 153.5 949.8 158.2 949.5 158.5 949.5 159.5 949.2 159.8 948.8 161.5 949.5 161.5 952.8 162.8 954.8 163.2 957.5 164.5 959.2 164.8 959.8 165.5 962.2 166.2 965.8 168.2 966.5 168.2 967.8 169.2 968.5 169.2 984.5 177.2 985.2 177.8 986.5 178.2 993.8 181.8 994.5 182.5 1018.8 194.5 1019.5 195.2 1023.5 197.2 1024.2 196.8 1024.2 195.5 1024.8 193.8 1025.2 190.5 1025.5 190.2 1025.5 188.8 1025.8 188.5 1036.5 193.8 1036.2 192.2 1035.8 191.8 1035.8 190.8 1035.5 190.5 1035.5 189.2 1035.2 188.8 1035.2 187.5 1034.8 187.2 1034.8 185.5 1034.5 185.2 1034.5 183.5 1034.2 183.2 1034.2 181.2 1033.8 180.8 1033.8 178.8 1033.5 178.5 1033.5 176.2 1033.2 175.8 1033.2 173.2 1032.8 172.8 1032.8 171.5 1033.2 171.2 1033.5 171.5 1035.5 171.5 1035.8 171.8 1036.5 171.5 1038.2 172.2 1038.8 171.8 1039.2 172.2 1041.2 172.2 1041.5 172.5 1043.5 172.5 1043.8 172.8 1044.5 172.5 1044.8 172.8 1045.8 172.8 1046.2 173.2 1046.8 172.8 1048.5 173.5 1049.2 173.2 1049.5 173.5 1051.5 173.5 1051.8 173.8 1053.8 173.8 1054.2 174.2 1054.8 173.8 1055.2 174.2 1056.2 174.2 1056.5 174.5 1057.2 174.2 1058.8 174.8 1059.5 174.5 1059.8 174.8 1061.8 174.8 1062.2 175.2 1064.2 175.2 1064.5 175.5 1066.5 175.5 1066.8 175.8 1067.5 175.5 1069.2 176.2 1069.8 175.8 1070.2 176.2 1072.2 176.2 1072.5 176.5 1074.5 176.5 1074.8 176.8 1076.8 176.8 1077.2 177.2 1077.8 176.8 1079.5 177.5 1080.2 177.2 1081.8 177.8 1082.5 177.5 1082.8 177.8 1084.8 177.8 1085.2 178.2 1087.2 178.2 1087.5 178.5 1089.8 178.5 1090.2 178.8 1090.5 178.5 1090.8 178.8 1093.2 178.8 1093.5 179.2 1094.2 179.2 1094.5 177.2 1094.8 176.8 1094.8 175.5 1095.5 174.2 1096.2 174.2 1096.5 174.5 1098.2 174.5 1098.5 174.8 1104.5 175.2 1104.8 175.5 1106.5 175.5 1106.8 175.8 1106.5 175.5 1106.5 174.5 1105.8 172.8 1105.8 171.5 1105.5 171.2 1105.5 169.8 1105.2 169.5 1105.2 168.2 1104.8 167.8 1104.8 166.2 1104.5 165.8 1104.2 161.5 1103.8 161.2 1103.5 155.8 1103.2 155.5 1103.2 152.8 1102.8 152.5 1102.8 149.8 1102.5 149.5 1102.5 146.5 1102.2 146.2 1102.2 143.5 1101.8 143.2 1101.8 140.2 1101.5 139.8 1101.5 137.2 1101.2 136.8 1101.2 134.5 1100.8 134.2 1100.5 130.5 1097.5 130.5 1097.2 130.2 1095.2 130.2 1094.8 129.8 1092.8 129.8 1092.5 129.5 1090.5 129.5 1090.2 129.2 1086.8 129.2 1086.5 128.8 1084.5 128.8 1084.2 128.5 1080.2 128.2 1079.8 127.8 1077.8 127.8 1077.5 127.5 1076.8 127.5 1076.5 127.8 1076.2 127.5 1069.5 126.8 1069.2 126.5 1067.5 126.5 1067.2 126.2 1063.8 126.2 1063.5 125.8 1061.5 125.8 1061.2 125.5 1059.2 125.5 1058.8 125.2 1056.8 125.2 1056.5 124.8 1054.5 124.8 1054.2 124.5 1053.5 124.8 1053.2 124.5 1051.2 124.5 1050.8 124.2 1048.8 124.2 1048.5 123.8 1046.5 123.8 1046.2 123.5 1044.2 123.5 1043.8 123.2 1040.8 123.2 1040.5 122.8 1033.8 122.2 1033.5 121.8 1031.8 121.8 1031.5 121.5 1028.2 121.5 1027.8 121.2 1025.8 121.2 1025.5 120.8 1023.8 120.8 1023.5 120.5 1019.2 120.2 1018.8 119.8 1017.2 119.8 1016.8 119.5 1014.8 119.5 1014.5 119.2 1012.8 119.2 1012.5 118.8 1010.5 118.8 1010.2 118.5 1008.5 118.5 1008.2 118.2 1006.5 118.2 1006.2 117.8 1000.5 117.2 1000.2 116.8 998.8 116.8 997.5 116.2 994.5 115.8 993.5 115.2 992.2 115.2 991.8 114.8 988.2 113.8 987.2 113.2 986.2 113.2 985.5 112.5 984.8 112.5 982.2 111.2 981.2 110.2 980.2 109.8 979.2 108.8 977.8 108.2 973.5 103.5 972.5 101.5 971.5 100.5 968.2 93.2 968.2 92.5 966.5 88.2 966.5 87.2 965.5 84.8 964.8 81.2 964.5 80.8 964.5 79.5 964.2 79.2 964.2 78.2 963.5 76.5 963.5 75.2 963.2 74.8 963.2 73.5 962.8 73.2 962.2 68.5 961.5 66.8 961.5 65.2 961.2 64.8 960.5 60.2 959.8 58.5 959.8 57.2 959.5 56.8 959.2 54.2 958.2 51.5z"/><path fill="#10e4f6" fill-rule="evenodd" d="M958.2 50.5 958.2 51.8 957.8 52.2 957.8 56.8 957.5 57.2 957.5 62.5 957.2 62.8 957.2 68.8 956.8 69.2 956.8 75.2 956.5 75.5 956.5 82.2 956.2 82.5 956.2 88.8 955.8 89.2 955.8 95.2 955.5 95.5 955.5 101.5 955.2 101.8 955.2 107.5 954.8 107.8 954.8 113.2 954.5 113.5 954.5 118.2 954.2 118.5 953.8 127.5 953.5 127.8 953.5 131.5 953.2 131.8 953.2 134.8 952.8 135.2 952.5 141.5 952.2 141.8 952.2 144.2 951.8 144.5 951.8 146.8 951.5 147.2 951.5 149.2 951.2 149.5 950.8 152.5 954.5 153.5 955.5 154.2 956.5 154.2 957.5 154.8 958.2 154.8 959.5 155.5 960.2 155.5 961.5 156.5 963.2 156.8 963.8 157.5 964.5 157.5 967.5 159.2 968.2 159.2 968.8 159.8 970.2 160.5 970.8 160.5 971.5 161.2 972.2 161.2 972.8 161.8 974.2 162.2 976.2 163.5 977.5 163.8 981.5 165.8 982.2 166.5 1011.2 180.8 1011.8 181.5 1025.2 188.2 1025.8 188.2 1026.2 183.8 1026.5 183.5 1026.5 182.2 1026.8 181.8 1034.8 185.8 1034.5 185.2 1034.5 183.5 1034.2 183.2 1033.8 178.8 1033.5 178.5 1033.5 176.2 1033.2 175.8 1033.2 173.2 1032.8 172.8 1032.8 170.2 1032.5 169.8 1032.5 166.8 1032.2 166.5 1032.2 163.8 1031.8 163.5 1031.8 162.2 1032.2 161.8 1033.5 162.5 1033.8 162.2 1034.5 162.2 1034.8 162.5 1036.8 162.5 1037.2 162.8 1038.8 162.8 1039.2 163.2 1039.8 163.2 1040.2 162.8 1041.5 163.5 1042.5 163.2 1043.8 163.8 1044.2 163.5 1044.8 163.5 1045.2 163.8 1049.2 164.2 1049.5 164.5 1050.2 164.5 1050.5 164.2 1051.8 164.8 1052.8 164.5 1054.2 165.2 1054.5 164.8 1055.2 164.8 1056.5 165.5 1056.8 165.2 1057.5 165.2 1057.8 165.5 1059.5 165.5 1059.8 165.8 1060.5 165.8 1060.8 165.5 1062.2 166.2 1063.2 165.8 1064.5 166.5 1065.5 166.2 1066.8 166.8 1067.2 166.5 1067.8 166.5 1068.2 166.8 1070.2 166.8 1070.5 167.2 1072.5 167.2 1072.8 167.5 1073.5 167.2 1074.8 167.8 1075.8 167.5 1077.2 168.2 1077.5 167.8 1078.2 167.8 1079.5 168.5 1079.8 168.2 1080.5 168.2 1080.8 168.5 1082.8 168.5 1083.2 168.8 1083.8 168.5 1085.5 169.2 1086.2 168.8 1087.8 169.5 1088.5 169.2 1089.8 169.8 1090.2 169.5 1090.8 169.5 1091.2 169.8 1091.8 169.8 1092.2 169.5 1093.5 170.2 1094.2 170.2 1094.5 169.8 1095.8 170.5 1095.8 169.8 1096.2 169.5 1096.2 167.5 1096.8 166.5 1098.5 166.5 1098.8 166.8 1100.5 166.8 1100.8 167.2 1102.5 167.2 1102.8 167.5 1104.5 167.5 1104.8 167.8 1104.5 163.8 1104.2 163.5 1104.2 161.5 1103.8 161.2 1103.8 158.8 1103.5 158.5 1103.5 155.8 1103.2 155.5 1103.2 152.8 1102.8 152.5 1102.8 149.8 1102.5 149.5 1102.5 146.5 1102.2 146.2 1102.2 143.5 1101.8 143.2 1101.8 140.2 1101.5 139.8 1101.5 137.2 1101.2 136.8 1101.2 134.5 1100.8 134.2 1100.5 130.5 1097.5 130.5 1097.2 130.2 1095.2 130.2 1094.8 129.8 1092.8 129.8 1092.5 129.5 1090.5 129.5 1090.2 129.2 1086.8 129.2 1086.5 128.8 1084.5 128.8 1084.2 128.5 1080.2 128.2 1079.8 127.8 1077.8 127.8 1077.5 127.5 1076.8 127.5 1076.5 127.8 1076.2 127.5 1069.5 126.8 1069.2 126.5 1067.5 126.5 1067.2 126.2 1063.8 126.2 1063.5 125.8 1061.5 125.8 1061.2 125.5 1059.2 125.5 1058.8 125.2 1056.8 125.2 1056.5 124.8 1054.5 124.8 1054.2 124.5 1053.5 124.8 1053.2 124.5 1051.2 124.5 1050.8 124.2 1048.8 124.2 1048.5 123.8 1046.5 123.8 1046.2 123.5 1044.2 123.5 1043.8 123.2 1040.8 123.2 1040.5 122.8 1033.8 122.2 1033.5 121.8 1031.8 121.8 1031.5 121.5 1028.2 121.5 1027.8 121.2 1025.8 121.2 1025.5 120.8 1023.8 120.8 1023.5 120.5 1019.2 120.2 1018.8 119.8 1017.2 119.8 1016.8 119.5 1014.8 119.5 1014.5 119.2 1012.8 119.2 1012.5 118.8 1010.5 118.8 1010.2 118.5 1008.5 118.5 1008.2 118.2 1006.5 118.2 1006.2 117.8 1000.5 117.2 1000.2 116.8 998.8 116.8 997.5 116.2 994.5 115.8 993.5 115.2 992.2 115.2 991.8 114.8 988.2 113.8 987.2 113.2 986.2 113.2 985.5 112.5 984.8 112.5 982.2 111.2 981.2 110.2 980.2 109.8 979.2 108.8 977.8 108.2 973.5 103.5 972.5 101.5 971.5 100.5 968.2 93.2 968.2 92.5 966.5 88.2 966.5 87.2 965.5 84.8 964.8 81.2 964.5 80.8 964.5 79.5 964.2 79.2 964.2 78.2 963.5 76.5 963.5 75.2 963.2 74.8 963.2 73.5 962.8 73.2 962.2 68.5 961.5 66.8 961.5 65.2 961.2 64.8 960.5 60.2 959.8 58.5 959.8 57.2 959.5 56.8 959.2 54.2 958.2 51.5z"/><path fill="#10ecc8" fill-rule="evenodd" d="M958.2 50.5 958.2 51.8 957.8 52.2 957.8 56.8 957.5 57.2 957.5 62.5 957.2 62.8 957.2 68.8 956.8 69.2 956.8 75.2 956.5 75.5 956.5 82.2 956.2 82.5 956.2 88.8 955.8 89.2 955.8 95.2 955.5 95.5 955.5 101.5 955.2 101.8 955.2 107.5 954.8 107.8 954.5 118.2 954.2 118.5 953.8 127.5 953.5 127.8 953.5 131.5 953.2 131.8 953.2 134.8 952.8 135.2 952.5 141.5 952.2 141.8 952.2 144.2 951.8 144.5 953.2 144.5 953.5 145.2 954.8 145.2 955.2 145.5 959.8 146.8 961.5 147.8 962.2 147.8 963.8 148.8 964.5 148.8 965.2 149.5 967.5 150.2 968.8 151.2 970.2 151.5 970.8 152.2 971.5 152.2 972.2 152.8 973.5 153.2 974.8 154.2 975.5 154.2 977.5 155.2 978.2 155.8 979.5 156.5 980.2 156.5 988.2 160.5 988.8 161.2 1026.8 180.2 1027.2 175.5 1027.5 175.2 1033.5 178.2 1033.2 173.2 1032.8 172.8 1032.8 170.2 1032.5 169.8 1032.5 166.8 1032.2 166.5 1032.2 163.8 1031.8 163.5 1031.8 160.5 1031.5 160.2 1031.5 157.2 1031.2 156.8 1031.2 154.5 1030.8 154.2 1031.2 153.8 1031.8 153.8 1032.2 154.2 1032.5 153.8 1033.2 153.8 1033.5 154.2 1034.2 154.2 1034.5 153.8 1035.8 154.5 1036.8 154.2 1038.2 154.8 1039.2 154.5 1040.2 155.2 1041.2 154.8 1042.5 155.5 1042.8 155.2 1043.5 155.2 1043.8 155.5 1044.5 155.5 1044.8 155.2 1046.2 155.8 1047.2 155.5 1048.5 156.2 1049.2 155.8 1050.8 156.5 1051.2 156.2 1051.8 156.2 1052.8 156.8 1053.2 156.2 1054.2 156.8 1054.8 156.8 1055.2 156.5 1056.5 157.2 1057.2 157.2 1057.5 156.8 1058.8 157.5 1059.8 157.2 1061.2 157.8 1061.5 157.5 1062.2 157.5 1063.5 158.2 1063.8 157.8 1064.5 157.8 1065.5 158.5 1065.8 157.8 1066.8 158.5 1067.5 158.5 1067.8 158.2 1069.2 158.8 1070.2 158.5 1071.5 159.2 1072.5 158.8 1073.8 159.5 1074.2 159.2 1074.8 159.2 1075.2 159.5 1075.8 159.5 1076.2 159.2 1078.2 160.2 1078.5 159.5 1079.5 160.2 1080.2 160.2 1080.5 159.8 1081.8 160.5 1082.8 160.2 1084.2 160.8 1084.5 160.5 1085.2 160.5 1086.5 161.2 1086.8 160.8 1087.5 160.8 1087.8 161.2 1088.5 161.2 1088.8 160.8 1090.2 161.5 1091.2 161.2 1092.2 161.8 1092.8 161.8 1093.2 161.5 1094.5 162.2 1095.5 161.8 1096.8 162.5 1097.2 162.2 1097.2 159.5 1097.5 159.2 1097.8 159.5 1099.8 159.2 1100.2 159.5 1103.8 159.8 1103.8 158.8 1103.5 158.5 1103.5 155.8 1103.2 155.5 1103.2 152.8 1102.8 152.5 1102.8 149.8 1102.5 149.5 1102.2 143.5 1101.8 143.2 1101.5 137.2 1101.2 136.8 1101.2 134.5 1100.8 134.2 1100.5 130.5 1097.5 130.5 1097.2 130.2 1095.2 130.2 1094.8 129.8 1092.8 129.8 1092.5 129.5 1090.5 129.5 1090.2 129.2 1086.8 129.2 1086.5 128.8 1084.5 128.8 1084.2 128.5 1080.2 128.2 1079.8 127.8 1077.8 127.8 1077.5 127.5 1076.8 127.5 1076.5 127.8 1076.2 127.5 1069.5 126.8 1069.2 126.5 1067.5 126.5 1067.2 126.2 1063.8 126.2 1063.5 125.8 1061.5 125.8 1061.2 125.5 1059.2 125.5 1058.8 125.2 1056.8 125.2 1056.5 124.8 1054.5 124.8 1054.2 124.5 1053.5 124.8 1053.2 124.5 1051.2 124.5 1050.8 124.2 1048.8 124.2 1048.5 123.8 1046.5 123.8 1046.2 123.5 1044.2 123.5 1043.8 123.2 1040.8 123.2 1040.5 122.8 1033.8 122.2 1033.5 121.8 1031.8 121.8 1031.5 121.5 1028.2 121.5 1027.8 121.2 1025.8 121.2 1025.5 120.8 1023.8 120.8 1023.5 120.5 1019.2 120.2 1018.8 119.8 1017.2 119.8 1016.8 119.5 1014.8 119.5 1014.5 119.2 1012.8 119.2 1012.5 118.8 1010.5 118.8 1010.2 118.5 1008.5 118.5 1008.2 118.2 1006.5 118.2 1006.2 117.8 1000.5 117.2 1000.2 116.8 998.8 116.8 997.5 116.2 994.5 115.8 993.5 115.2 992.2 115.2 991.8 114.8 988.2 113.8 987.2 113.2 986.2 113.2 985.5 112.5 984.8 112.5 982.2 111.2 981.2 110.2 980.2 109.8 979.2 108.8 977.8 108.2 973.5 103.5 972.5 101.5 971.5 100.5 968.2 93.2 968.2 92.5 966.5 88.2 966.5 87.2 965.5 84.8 964.8 81.2 964.5 80.8 964.5 79.5 964.2 79.2 964.2 78.2 963.5 76.5 963.5 75.2 963.2 74.8 963.2 73.5 962.8 73.2 962.2 68.5 961.5 66.8 961.5 65.2 961.2 64.8 960.5 60.2 959.8 58.5 959.8 57.2 959.5 56.8 959.2 54.2 958.2 51.5z"/><path fill="#10e884" fill-rule="evenodd" d="M958.2 50.5 958.2 51.8 957.8 52.2 957.8 56.8 957.5 57.2 957.5 62.5 957.2 62.8 957.2 68.8 956.8 69.2 956.8 75.2 956.5 75.5 956.5 82.2 956.2 82.5 956.2 88.8 955.8 89.2 955.8 95.2 955.5 95.5 955.5 101.5 955.2 101.8 954.8 113.2 954.5 113.5 954.5 118.2 954.2 118.5 954.2 122.8 953.8 123.2 953.5 131.5 953.2 131.8 953.2 134.8 952.8 135.2 952.8 135.8 953.2 136.2 953.5 135.8 954.2 135.8 954.5 136.5 955.2 136.5 955.5 136.8 955.8 136.5 956.2 136.8 957.8 137.2 959.5 138.2 959.8 137.8 960.5 138.5 960.8 138.2 961.2 138.5 961.8 138.5 962.2 139.2 963.2 139.2 964.8 140.2 966.2 140.5 968.2 141.8 970.5 142.5 971.2 143.2 971.8 143.2 972.5 143.8 973.2 143.8 974.5 144.8 976.2 145.2 976.5 145.8 977.8 146.2 980.5 147.5 981.2 148.2 985.8 150.5 986.5 150.5 1001.2 157.8 1001.8 158.5 1024.8 169.8 1025.5 170.5 1027.8 171.5 1027.8 169.2 1028.5 167.8 1030.8 168.8 1032.8 170.2 1032.5 169.8 1032.5 166.8 1032.2 166.5 1032.2 163.8 1031.8 163.5 1031.8 160.5 1031.5 160.2 1031.5 157.2 1031.2 156.8 1031.2 154.5 1030.8 154.2 1030.5 149.5 1029.8 148.5 1022.2 144.5 1022.8 143.5 1023.8 144.2 1024.5 144.2 1024.8 143.8 1026.2 144.5 1027.2 144.2 1028.2 144.8 1029.2 144.5 1030.5 145.2 1030.8 144.5 1031.8 145.2 1032.5 145.2 1032.8 144.8 1034.2 145.5 1034.8 145.2 1036.5 145.8 1036.8 145.5 1037.5 145.5 1038.5 146.2 1039.5 145.8 1040.8 146.5 1041.2 145.8 1042.2 146.5 1042.8 146.5 1043.2 146.2 1044.5 146.8 1045.2 146.5 1046.8 147.2 1047.8 146.8 1048.8 147.5 1050.2 147.2 1051.2 147.8 1051.5 147.2 1052.5 147.8 1053.8 147.5 1054.8 148.2 1055.5 148.2 1055.8 147.8 1057.2 148.5 1057.8 148.2 1059.5 148.8 1059.8 148.5 1060.5 148.5 1061.5 149.2 1062.8 148.8 1063.8 149.5 1064.2 148.8 1065.2 149.5 1066.5 149.2 1067.5 149.8 1068.5 149.5 1069.8 150.2 1070.5 149.8 1072.2 150.5 1072.5 150.2 1073.2 150.2 1074.2 150.8 1074.5 150.2 1076.5 151.2 1076.8 150.5 1077.8 151.2 1079.2 150.8 1080.2 151.5 1081.2 151.2 1082.5 151.8 1082.8 151.2 1084.8 152.2 1085.2 151.8 1085.8 151.8 1086.8 152.5 1087.2 151.8 1088.5 152.5 1089.2 152.2 1090.5 152.8 1091.8 152.5 1092.8 153.2 1093.8 152.8 1095.2 153.5 1095.5 152.8 1096.5 153.5 1097.2 153.5 1097.5 153.2 1097.8 153.5 1098.2 152.8 1098.2 151.5 1098.5 151.2 1099.2 151.2 1099.5 151.5 1101.2 151.5 1101.5 151.2 1101.8 151.8 1102.5 151.8 1102.8 151.5 1102.5 146.5 1102.2 146.2 1102.2 143.5 1101.8 143.2 1101.8 140.2 1101.5 139.8 1101.5 137.2 1101.2 136.8 1101.2 134.5 1100.8 134.2 1100.5 130.5 1097.5 130.5 1097.2 130.2 1095.2 130.2 1094.8 129.8 1092.8 129.8 1092.5 129.5 1090.5 129.5 1090.2 129.2 1086.8 129.2 1086.5 128.8 1084.5 128.8 1084.2 128.5 1080.2 128.2 1079.8 127.8 1077.8 127.8 1077.5 127.5 1076.8 127.5 1076.5 127.8 1076.2 127.5 1069.5 126.8 1069.2 126.5 1067.5 126.5 1067.2 126.2 1063.8 126.2 1063.5 125.8 1061.5 125.8 1061.2 125.5 1059.2 125.5 1058.8 125.2 1056.8 125.2 1056.5 124.8 1054.5 124.8 1054.2 124.5 1053.5 124.8 1053.2 124.5 1051.2 124.5 1050.8 124.2 1048.8 124.2 1048.5 123.8 1046.5 123.8 1046.2 123.5 1044.2 123.5 1043.8 123.2 1040.8 123.2 1040.5 122.8 1033.8 122.2 1033.5 121.8 1031.8 121.8 1031.5 121.5 1028.2 121.5 1027.8 121.2 1025.8 121.2 1025.5 120.8 1023.8 120.8 1023.5 120.5 1019.2 120.2 1018.8 119.8 1017.2 119.8 1016.8 119.5 1014.8 119.5 1014.5 119.2 1012.8 119.2 1012.5 118.8 1010.5 118.8 1010.2 118.5 1008.5 118.5 1008.2 118.2 1006.5 118.2 1006.2 117.8 1000.5 117.2 1000.2 116.8 998.8 116.8 997.5 116.2 994.5 115.8 993.5 115.2 992.2 115.2 991.8 114.8 988.2 113.8 987.2 113.2 986.2 113.2 985.5 112.5 984.8 112.5 982.2 111.2 981.2 110.2 980.2 109.8 979.2 108.8 977.8 108.2 973.5 103.5 972.5 101.5 971.5 100.5 968.2 93.2 968.2 92.5 966.5 88.2 966.5 87.2 965.5 84.8 964.8 81.2 964.5 80.8 964.5 79.5 964.2 79.2 964.2 78.2 963.5 76.5 963.5 75.2 963.2 74.8 963.2 73.5 962.8 73.2 962.2 68.5 961.5 66.8 961.5 65.2 961.2 64.8 960.5 60.2 959.8 58.5 959.8 57.2 959.5 56.8 959.2 54.2 958.2 51.5zM1021.5 144.2 1021.8 143.8 1022.5 144.2 1022.2 144.5zM1020.8 143.8 1021.2 143.5 1021.8 143.8 1021.5 144.2z"/><path fill="#20e244" fill-rule="evenodd" d="M958.2 50.5 958.2 51.8 957.8 52.2 957.8 56.8 957.5 57.2 957.5 62.5 957.2 62.8 957.2 68.8 956.8 69.2 956.8 75.2 956.5 75.5 956.5 82.2 956.2 82.5 956.2 88.8 955.8 89.2 955.8 95.2 955.5 95.5 955.5 101.5 955.2 101.8 954.8 113.2 954.5 113.5 954.5 118.2 954.2 118.5 954.2 122.8 953.8 123.2 953.8 127.5 953.5 127.8 953.8 128.2 954.2 127.8 954.8 127.8 955.2 128.5 955.8 128.5 956.2 128.2 956.5 128.8 956.8 128.5 957.5 129.2 958.2 128.8 958.8 129.5 959.8 129.5 961.2 130.5 961.5 130.2 961.8 130.5 962.5 130.5 963.5 131.2 964.2 131.2 964.5 131.8 964.8 131.5 967.2 132.8 967.8 132.8 970.2 134.2 970.8 134.2 971.2 134.8 971.8 134.8 974.2 136.2 974.8 136.2 975.2 136.8 976.8 137.2 977.5 137.8 980.8 139.2 981.8 140.2 982.5 140.2 988.2 143.2 988.8 143.2 1000.2 148.8 1000.8 149.5 1023.8 160.8 1024.5 161.5 1028.5 163.5 1028.5 162.2 1029.2 160.8 1031.8 162.2 1031.5 157.2 1031.2 156.8 1031.2 154.5 1030.8 154.2 1030.8 151.8 1030.5 151.5 1030.5 149.5 1030.2 148.8 1028.2 147.8 1027.5 147.2 1001.2 134.2 1000.2 133.2 1000.5 132.5 1001.5 133.2 1002.2 132.8 1003.5 133.5 1003.8 133.2 1004.5 133.2 1004.8 133.5 1005.5 133.2 1006.5 133.8 1007.2 133.8 1007.5 133.5 1008.8 134.2 1009.2 133.8 1009.8 133.8 1010.8 134.5 1011.2 133.8 1012.2 134.5 1013.2 134.2 1014.2 134.8 1014.8 134.5 1016.5 135.2 1016.8 134.8 1017.5 134.8 1018.5 135.5 1018.8 134.8 1020.5 135.8 1020.8 135.2 1022.2 135.8 1023.2 135.5 1024.2 136.2 1025.2 135.8 1026.5 136.5 1026.8 135.8 1028.5 136.8 1028.8 136.2 1030.2 136.8 1030.8 136.5 1032.2 137.2 1033.5 136.8 1034.5 137.5 1035.5 137.2 1036.8 137.8 1037.2 137.2 1038.8 138.2 1039.2 137.5 1040.5 138.2 1041.2 137.8 1042.5 138.5 1043.8 138.2 1044.8 138.8 1045.8 138.5 1047.2 139.2 1047.5 138.5 1048.5 139.2 1049.2 139.2 1049.5 138.8 1051.5 139.8 1051.8 139.2 1053.2 139.8 1054.2 139.5 1055.2 140.2 1056.5 139.8 1057.5 140.5 1057.8 139.8 1059.8 140.8 1060.2 140.2 1061.2 140.8 1061.8 140.8 1062.2 140.5 1063.5 141.2 1064.2 140.8 1065.8 141.5 1066.2 141.2 1066.8 141.2 1067.8 141.8 1069.2 141.5 1070.2 142.2 1070.5 141.5 1071.5 142.2 1072.8 141.8 1073.8 142.5 1074.5 142.5 1074.8 142.2 1076.2 142.8 1077.2 142.5 1078.5 143.2 1078.8 142.5 1080.5 143.5 1080.8 142.8 1082.8 143.8 1083.2 143.2 1084.2 143.8 1085.5 143.5 1086.5 144.2 1087.5 143.8 1088.8 144.5 1089.8 144.2 1091.2 144.8 1091.5 144.2 1093.2 145.2 1093.5 144.5 1094.8 145.2 1095.8 144.8 1096.8 145.5 1097.5 145.5 1097.8 145.2 1098.8 145.5 1098.8 143.8 1099.2 143.5 1099.5 143.8 1101.2 143.8 1101.5 144.2 1102.2 144.2 1102.2 143.5 1101.8 143.2 1101.8 140.2 1101.5 139.8 1101.5 137.2 1101.2 136.8 1101.2 134.5 1100.8 134.2 1100.5 130.5 1097.5 130.5 1097.2 130.2 1095.2 130.2 1094.8 129.8 1092.8 129.8 1092.5 129.5 1090.5 129.5 1090.2 129.2 1086.8 129.2 1086.5 128.8 1084.5 128.8 1084.2 128.5 1080.2 128.2 1079.8 127.8 1077.8 127.8 1077.5 127.5 1076.8 127.5 1076.5 127.8 1076.2 127.5 1069.5 126.8 1069.2 126.5 1067.5 126.5 1067.2 126.2 1063.8 126.2 1063.5 125.8 1061.5 125.8 1061.2 125.5 1059.2 125.5 1058.8 125.2 1056.8 125.2 1056.5 124.8 1054.5 124.8 1054.2 124.5 1053.5 124.8 1053.2 124.5 1051.2 124.5 1050.8 124.2 1048.8 124.2 1048.5 123.8 1046.5 123.8 1046.2 123.5 1044.2 123.5 1043.8 123.2 1040.8 123.2 1040.5 122.8 1033.8 122.2 1033.5 121.8 1031.8 121.8 1031.5 121.5 1028.2 121.5 1027.8 121.2 1025.8 121.2 1025.5 120.8 1023.8 120.8 1023.5 120.5 1019.2 120.2 1018.8 119.8 1014.8 119.5 1014.5 119.2 1012.8 119.2 1012.5 118.8 1010.5 118.8 1010.2 118.5 1008.5 118.5 1008.2 118.2 1006.5 118.2 1006.2 117.8 1000.5 117.2 1000.2 116.8 998.8 116.8 997.5 116.2 994.5 115.8 993.5 115.2 992.2 115.2 991.8 114.8 988.2 113.8 987.2 113.2 986.2 113.2 985.5 112.5 984.8 112.5 982.2 111.2 981.2 110.2 980.2 109.8 979.2 108.8 977.8 108.2 973.5 103.5 972.5 101.5 971.5 100.5 968.2 93.2 968.2 92.5 966.5 88.2 966.5 87.2 965.5 84.8 964.8 81.2 964.5 80.8 964.5 79.5 964.2 79.2 964.2 78.2 963.5 76.5 963.5 75.2 963.2 74.8 963.2 73.5 962.8 73.2 962.2 68.5 961.5 66.8 961.5 65.2 961.2 64.8 960.5 60.2 959.8 58.5 959.8 57.2 959.5 56.8 959.2 54.2 958.2 51.5z"/><path fill="#3ce634" fill-rule="evenodd" d="M958.2 50.5 958.2 51.8 957.8 52.2 957.8 56.8 957.5 57.2 957.5 62.5 957.2 62.8 957.2 68.8 956.8 69.2 956.8 75.2 956.5 75.5 956.5 82.2 956.2 82.5 956.2 88.8 955.8 89.2 955.8 95.2 955.5 95.5 955.2 107.5 954.8 107.8 954.8 113.2 954.5 113.5 954.5 118.2 954.2 118.5 954.2 119.5 954.5 119.2 956.2 119.5 956.5 120.2 956.8 119.8 957.5 120.2 957.8 119.8 959.5 121.2 960.8 121.2 961.8 121.8 962.2 121.5 962.8 122.2 963.5 121.8 964.2 122.2 964.5 122.8 966.5 123.2 967.8 124.2 968.5 124.2 969.2 124.8 969.5 124.5 970.2 125.2 971.5 125.8 972.2 125.8 973.5 126.8 974.2 126.8 976.8 128.2 977.5 128.8 979.2 129.2 979.8 129.8 981.2 130.5 981.8 130.5 983.2 131.5 989.2 134.5 989.8 134.5 1029.2 154.5 1029.5 154.5 1029.5 153.8 1029.8 153.5 1030.8 154.2 1030.5 149.5 1029.8 148.5 988.8 127.8 988.2 127.2 985.8 126.2 985.2 125.5 982.8 124.5 982.2 123.8 980.2 122.8 979.2 121.8 979.5 121.5 980.2 121.8 980.5 121.5 982.2 122.2 982.5 121.8 982.8 122.2 983.2 121.8 983.5 122.2 983.8 121.8 984.2 122.2 984.5 121.8 985.2 122.5 986.2 121.8 986.8 122.5 987.2 122.2 987.5 122.5 988.2 122.2 988.8 122.8 989.2 122.5 989.8 122.8 990.5 122.5 991.2 123.2 991.5 122.8 992.2 123.2 992.8 122.8 993.8 123.5 994.2 123.2 994.8 123.5 995.5 123.2 996.5 123.8 996.8 123.5 997.5 123.8 998.5 123.5 999.5 124.2 1000.2 123.8 1001.2 124.5 1001.5 123.8 1002.5 124.5 1003.2 124.2 1004.5 124.8 1004.8 124.5 1005.5 124.5 1005.8 124.8 1006.5 124.5 1007.8 125.2 1008.5 124.8 1009.8 125.5 1010.2 125.2 1010.8 125.2 1011.2 125.5 1011.8 125.2 1013.2 125.8 1014.2 125.5 1015.2 126.2 1015.8 125.8 1017.5 126.5 1017.8 126.2 1018.5 126.2 1019.5 126.8 1019.8 126.2 1020.8 126.8 1021.5 126.8 1021.8 126.5 1023.2 127.2 1023.8 126.8 1025.5 127.5 1025.8 127.2 1026.5 127.2 1027.5 127.8 1027.8 127.2 1028.8 127.8 1029.5 127.8 1029.8 127.5 1031.2 128.2 1031.8 127.8 1033.5 128.5 1033.8 128.2 1034.5 128.2 1035.5 128.8 1035.8 128.2 1037.8 129.2 1038.2 128.5 1039.2 129.2 1039.8 129.2 1040.2 128.8 1041.5 129.5 1042.5 129.2 1043.8 129.8 1044.2 129.5 1044.8 129.5 1046.2 130.2 1046.5 129.8 1047.2 129.8 1048.2 130.5 1048.5 129.8 1049.5 130.5 1050.8 130.2 1051.8 130.8 1052.8 130.5 1054.2 131.2 1054.8 130.8 1056.5 131.5 1056.8 131.2 1057.5 131.2 1058.5 131.8 1058.8 131.2 1060.2 131.8 1060.8 131.5 1062.2 132.2 1063.5 131.8 1064.5 132.5 1065.5 132.2 1066.8 132.8 1067.2 132.5 1067.8 132.5 1069.2 133.2 1069.5 132.8 1070.2 132.8 1070.5 133.2 1071.2 133.2 1071.5 132.8 1072.8 133.5 1073.5 133.2 1074.8 133.8 1076.2 133.5 1077.2 134.2 1078.2 133.8 1079.5 134.5 1079.8 133.8 1080.8 134.5 1081.5 134.5 1081.8 134.2 1083.2 134.8 1083.8 134.8 1084.2 134.5 1085.5 135.2 1086.5 134.8 1087.5 135.5 1088.8 135.2 1089.8 135.8 1090.8 135.5 1092.2 136.2 1092.5 135.5 1093.5 136.2 1094.2 136.2 1094.5 135.8 1095.8 136.5 1096.8 136.2 1098.2 136.8 1098.8 136.5 1099.5 136.8 1100.2 135.5 1101.2 135.8 1100.5 130.5 1097.5 130.5 1097.2 130.2 1095.2 130.2 1094.8 129.8 1092.8 129.8 1092.5 129.5 1090.5 129.5 1090.2 129.2 1086.8 129.2 1086.5 128.8 1084.5 128.8 1084.2 128.5 1080.2 128.2 1079.8 127.8 1077.8 127.8 1077.5 127.5 1076.8 127.5 1076.5 127.8 1076.2 127.5 1069.5 126.8 1069.2 126.5 1067.5 126.5 1067.2 126.2 1063.8 126.2 1063.5 125.8 1061.5 125.8 1061.2 125.5 1059.2 125.5 1058.8 125.2 1056.8 125.2 1056.5 124.8 1054.5 124.8 1054.2 124.5 1053.5 124.8 1053.2 124.5 1051.2 124.5 1050.8 124.2 1048.8 124.2 1048.5 123.8 1046.5 123.8 1046.2 123.5 1044.2 123.5 1043.8 123.2 1040.8 123.2 1040.5 122.8 1033.8 122.2 1033.5 121.8 1031.8 121.8 1031.5 121.5 1028.2 121.5 1027.8 121.2 1025.8 121.2 1025.5 120.8 1023.8 120.8 1023.5 120.5 1019.2 120.2 1018.8 119.8 1014.8 119.5 1014.5 119.2 1012.8 119.2 1012.5 118.8 1010.5 118.8 1010.2 118.5 1008.5 118.5 1008.2 118.2 1006.5 118.2 1006.2 117.8 1000.5 117.2 1000.2 116.8 998.8 116.8 997.5 116.2 994.5 115.8 993.5 115.2 992.2 115.2 991.8 114.8 988.2 113.8 987.2 113.2 986.2 113.2 985.5 112.5 984.8 112.5 982.2 111.2 981.2 110.2 980.2 109.8 979.2 108.8 977.8 108.2 973.5 103.5 972.5 101.5 971.5 100.5 968.2 93.2 968.2 92.5 966.5 88.2 966.5 87.2 965.5 84.8 964.8 81.2 964.5 80.8 964.5 79.5 964.2 79.2 964.2 78.2 963.5 76.5 963.5 75.2 963.2 74.8 963.2 73.5 962.8 73.2 962.2 68.5 961.5 66.8 961.5 65.2 961.2 64.8 960.5 60.2 959.8 58.5 959.8 57.2 959.5 56.8 959.2 54.2 958.2 51.5z"/><path fill="#6aea24" fill-rule="evenodd" d="M958.2 50.5 958.2 51.8 957.8 52.2 957.8 56.8 957.5 57.2 957.5 62.5 957.2 62.8 957.2 68.8 956.8 69.2 956.8 75.2 956.5 75.5 956.5 82.2 956.2 82.5 956.2 88.8 955.8 89.2 955.8 95.2 955.5 95.5 955.5 101.5 955.2 101.8 955.2 107.5 954.8 107.8 954.8 111.2 955.8 111.8 957.2 111.8 958.5 112.5 958.8 112.2 959.5 112.8 959.8 112.5 961.2 112.8 961.8 113.5 962.8 113.5 964.2 114.5 964.5 114.2 965.5 114.8 966.5 114.8 966.8 115.5 967.8 115.5 969.5 116.5 971.2 116.8 972.8 117.8 973.5 117.8 974.8 118.8 973.8 118.2 973.5 117.5 973.2 117.5 969.5 113.2 970.2 112.5 970.5 112.8 973.8 112.8 974.2 113.2 974.5 112.8 976.2 112.8 976.5 113.2 977.5 113.2 977.8 112.8 978.2 113.5 978.5 113.2 979.2 113.2 979.5 113.5 979.8 113.2 980.2 113.5 980.8 113.2 981.8 113.8 982.2 113.5 983.2 113.5 983.5 113.8 983.8 113.5 985.2 114.2 985.5 113.8 985.8 114.2 986.2 113.8 986.5 114.2 986.8 113.8 988.5 114.5 988.8 114.2 989.2 114.5 989.5 114.2 990.2 114.5 989.8 114.2 988.2 113.8 987.2 113.2 986.2 113.2 985.5 112.5 984.8 112.5 982.2 111.2 981.2 110.2 980.2 109.8 979.2 108.8 977.8 108.2 973.5 103.5 972.5 101.5 971.5 100.5 968.2 93.2 968.2 92.5 966.5 88.2 966.5 87.2 965.5 84.8 965.5 83.8 965.2 83.5 965.2 82.5 964.5 80.8 964.5 79.5 964.2 79.2 964.2 78.2 963.5 76.5 963.5 75.2 963.2 74.8 963.2 73.5 962.8 73.2 962.2 68.5 961.5 66.8 961.5 65.2 961.2 64.8 960.5 60.2 959.8 58.5 959.8 57.2 959.5 56.8 959.2 54.2 958.2 51.5z"/><path fill="#bcf018" fill-rule="evenodd" d="M958.2 50.5 958.2 51.8 957.8 52.2 957.8 56.8 957.5 57.2 957.5 62.5 957.2 62.8 957.2 68.8 956.8 69.2 956.5 82.2 956.2 82.5 956.2 88.8 955.8 89.2 955.8 95.2 955.5 95.5 955.5 101.5 955.2 101.8 955.2 103.2 956.8 104.2 958.5 103.8 958.8 104.5 959.2 104.2 959.5 104.8 959.8 104.5 960.8 105.2 961.2 104.8 962.2 105.5 962.8 105.2 963.8 105.8 966.2 106.5 965.8 105.2 967.2 104.5 969.5 104.5 969.8 104.2 970.2 104.5 970.8 104.5 971.2 104.2 971.8 104.5 972.5 104.2 972.8 104.5 974.5 104.5 971.5 100.5 969.5 96.5 969.5 95.8 968.2 93.2 968.2 92.5 966.5 88.2 966.5 87.2 965.5 84.8 965.5 83.8 965.2 83.5 965.2 82.5 964.5 80.8 964.5 79.5 964.2 79.2 964.2 78.2 963.5 76.5 963.5 75.2 963.2 74.8 963.2 73.5 962.8 73.2 962.2 68.5 961.5 66.8 961.5 65.2 961.2 64.8 960.5 60.2 959.8 58.5 959.8 57.2 959.5 56.8 959.2 54.2 958.2 51.5z"/><path fill="#ecf010" fill-rule="evenodd" d="M958.2 50.5 958.2 51.8 957.8 52.2 957.8 56.8 957.5 57.2 957.5 62.5 957.2 62.8 957.2 68.8 956.8 69.2 956.8 75.2 956.5 75.5 956.5 82.2 956.2 82.5 955.8 94.8 956.8 95.5 957.2 95.5 957.5 94.8 957.8 95.2 958.5 95.2 958.8 95.8 960.8 95.8 961.2 96.5 962.5 96.2 962.8 96.8 963.5 96.8 965.8 95.5 966.2 95.8 966.5 95.5 968.8 95.5 969.2 95.2 968.2 93.2 968.2 92.5 966.5 88.2 966.5 87.2 965.5 84.8 965.5 83.8 965.2 83.5 965.2 82.5 964.5 80.8 964.5 79.5 964.2 79.2 964.2 78.2 963.5 76.5 963.5 75.2 963.2 74.8 963.2 73.5 962.8 73.2 962.2 68.5 961.5 66.8 961.5 65.2 961.2 64.8 960.5 60.2 959.8 58.5 959.8 57.2 959.5 56.8 959.2 54.2 958.2 51.5z"/><path fill="#f8c018" fill-rule="evenodd" d="M958.2 50.5 958.2 51.8 957.8 52.2 957.8 56.8 957.5 57.2 957.5 62.5 957.2 62.8 957.2 68.8 956.8 69.2 956.8 75.2 956.5 75.5 956.2 87.2 956.8 86.8 957.8 87.8 957.8 87.5 958.5 87.2 959.8 88.2 960.2 87.5 961.5 88.5 962.8 87.8 963.2 88.2 964.2 87.5 964.5 87.8 965.5 87.2 966.2 87.2 966.2 86.2 965.5 84.8 965.5 83.8 965.2 83.5 965.2 82.5 964.5 80.8 964.5 79.5 964.2 79.2 964.2 78.2 963.5 76.5 963.5 75.2 963.2 74.8 963.2 73.5 962.8 73.2 962.2 68.5 961.5 66.8 961.5 65.2 961.2 64.8 960.5 60.2 959.8 58.5 959.8 57.2 959.5 56.8 959.2 54.2 958.2 51.5z"/><path fill="#f88a18" fill-rule="evenodd" d="M958.2 50.5 958.2 51.8 957.8 52.2 957.8 56.8 957.5 57.2 957.5 62.5 957.2 62.8 957.2 68.8 956.8 69.2 956.8 75.2 956.5 75.5 956.5 77.8 957.5 78.8 957.8 78.5 958.5 79.2 958.8 78.5 959.5 79.5 959.8 79.2 960.2 79.5 960.5 79.2 961.2 79.5 962.2 78.8 963.5 78.8 964.2 78.5 963.5 76.5 963.5 75.2 963.2 74.8 963.2 73.5 962.8 73.2 962.2 68.5 961.5 66.8 961.5 65.2 961.2 64.8 960.5 60.2 959.8 58.5 959.8 57.2 959.5 56.8 959.2 54.2 958.2 51.5z"/><path fill="#f04a12" fill-rule="evenodd" d="M958.2 50.5 958.2 51.8 957.8 52.2 957.8 56.8 957.5 57.2 957.5 62.5 957.2 62.8 957.2 68.8 956.8 69.2 956.8 70.5 957.2 70.8 957.5 70.2 958.2 71.2 958.5 70.5 958.8 71.2 959.5 70.5 959.8 71.2 960.2 71.2 960.5 70.8 961.8 70.8 962.5 70.2 962.2 69.8 962.2 68.5 961.5 66.8 961.5 65.2 961.2 64.8 960.5 60.2 959.8 58.5 959.8 57.2 959.5 56.8 959.2 54.2 958.2 51.5z"/><path fill="#ec1c14" fill-rule="evenodd" d="M958.2 50.5 958.2 51.8 957.8 52.2 957.8 56.8 957.5 57.2 957.5 62.2 957.8 61.5 958.2 62.2 958.5 61.8 959.2 62.2 959.5 61.8 960.5 61.8 960.5 60.2 959.8 58.5 959.8 57.2 959.5 56.8 959.2 54.2 958.2 51.5z"/><polyline points="910.5,186.5 1018.0,214.0 1113.0,189.5" stroke="#333" stroke-width="1" fill="none"/><text transform="translate(907.4,196.0) scale(1.08,1)" font-family='"Liberation Sans", sans-serif' font-size="8.6" font-weight="bold" fill="#4a4a4a" text-anchor="middle">0</text><text transform="translate(929.8,203.2) scale(1.08,1)" font-family='"Liberation Sans", sans-serif' font-size="8.6" font-weight="bold" fill="#4a4a4a" text-anchor="middle">0.8</text><text transform="translate(956.8,210.7) scale(1.08,1)" font-family='"Liberation Sans", sans-serif' font-size="8.6" font-weight="bold" fill="#4a4a4a" text-anchor="middle">1.6</text><text transform="translate(983.4,217.2) scale(1.08,1)" font-family='"Liberation Sans", sans-serif' font-size="8.6" font-weight="bold" fill="#4a4a4a" text-anchor="middle">2.4</text><text transform="translate(1009.9,224.1) scale(1.08,1)" font-family='"Liberation Sans", sans-serif' font-size="8.6" font-weight="bold" fill="#4a4a4a" text-anchor="middle">3.2</text><text transform="translate(1020.1,227.8) scale(1.08,1)" font-family='"Liberation Sans", sans-serif' font-size="8.6" font-weight="bold" fill="#4a4a4a" text-anchor="middle">0</text><text transform="translate(1042.5,222.2) scale(1.08,1)" font-family='"Liberation Sans", sans-serif' font-size="8.6" font-weight="bold" fill="#4a4a4a" text-anchor="middle">0.2</text><text transform="translate(1061.0,217.6) scale(1.08,1)" font-family='"Liberation Sans", sans-serif' font-size="8.6" font-weight="bold" fill="#4a4a4a" text-anchor="middle">0.4</text><text transform="translate(1080.3,212.5) scale(1.08,1)" font-family='"Liberation Sans", sans-serif' font-size="8.6" font-weight="bold" fill="#4a4a4a" text-anchor="middle">0.6</text><text transform="translate(1099.3,207.3) scale(1.08,1)" font-family='"Liberation Sans", sans-serif' font-size="8.6" font-weight="bold" fill="#4a4a4a" text-anchor="middle">0.8</text><text transform="translate(1114.2,202.3) scale(1.08,1)" font-family='"Liberation Sans", sans-serif' font-size="8.6" font-weight="bold" fill="#4a4a4a" text-anchor="middle">1</text><text transform="translate(954.9,221.5) scale(1,1)" font-family='"Liberation Sans", sans-serif' font-size="9.5" font-weight="bold" fill="#4a4a4a" text-anchor="middle">t</text><text transform="translate(1075.0,226.0) scale(1,1)" font-family='"Liberation Sans", sans-serif' font-size="9.5" font-weight="bold" fill="#4a4a4a" text-anchor="middle">x</text><text transform="translate(1116.3,48.7) scale(1.12,1)" font-family='"Liberation Sans", sans-serif' font-size="9" font-weight="bold" fill="#4a4a4a" text-anchor="start">0.24</text><text transform="translate(1116.3,72.9) scale(1.12,1)" font-family='"Liberation Sans", sans-serif' font-size="9" font-weight="bold" fill="#4a4a4a" text-anchor="start">0.2</text><text transform="translate(1116.3,97.1) scale(1.12,1)" font-family='"Liberation Sans", sans-serif' font-size="9" font-weight="bold" fill="#4a4a4a" text-anchor="start">0.16</text><text transform="translate(1116.3,121.3) scale(1.12,1)" font-family='"Liberation Sans", sans-serif' font-size="9" font-weight="bold" fill="#4a4a4a" text-anchor="start">0.12</text><text transform="translate(1116.3,145.5) scale(1.12,1)" font-family='"Liberation Sans", sans-serif' font-size="9" font-weight="bold" fill="#4a4a4a" text-anchor="start">0.08</text><text transform="translate(1116.3,169.7) scale(1.12,1)" font-family='"Liberation Sans", sans-serif' font-size="9" font-weight="bold" fill="#4a4a4a" text-anchor="start">0.04</text><text transform="translate(1116.3,193.9) scale(1.12,1)" font-family='"Liberation Sans", sans-serif' font-size="9" font-weight="bold" fill="#4a4a4a" text-anchor="start">0</text><text transform="translate(1146.0,117.0) rotate(-90) scale(1.0,1)" font-family='"Liberation Sans", sans-serif' font-size="8.6" font-weight="bold" fill="#4a4a4a" text-anchor="middle">u(x,t)</text><rect x="1149.4" y="39.80" width="11.9" height="10.92" fill="#ec1c14"/><rect x="1149.4" y="50.42" width="11.9" height="10.92" fill="#f04a12"/><rect x="1149.4" y="61.04" width="11.9" height="10.92" fill="#f88a18"/><rect x="1149.4" y="71.66" width="11.9" height="10.92" fill="#f8c018"/><rect x="1149.4" y="82.28" width="11.9" height="10.92" fill="#ecf010"/><rect x="1149.4" y="92.90" width="11.9" height="10.92" fill="#bcf018"/><rect x="1149.4" y="103.52" width="11.9" height="10.92" fill="#6aea24"/><rect x="1149.4" y="114.14" width="11.9" height="10.92" fill="#3ce634"/><rect x="1149.4" y="124.76" width="11.9" height="10.92" fill="#20e244"/><rect x="1149.4" y="135.38" width="11.9" height="10.92" fill="#10e884"/><rect x="1149.4" y="146.00" width="11.9" height="10.92" fill="#10ecc8"/><rect x="1149.4" y="156.62" width="11.9" height="10.92" fill="#10e4f6"/><rect x="1149.4" y="167.24" width="11.9" height="10.92" fill="#10acf2"/><rect x="1149.4" y="177.86" width="11.9" height="10.92" fill="#1464f2"/><rect x="1149.4" y="188.48" width="11.9" height="10.92" fill="#1424ec"/><text transform="translate(1167.4,48.0) scale(1.1,1)" font-family='"Liberation Sans", sans-serif' font-size="7.6" font-weight="bold" fill="#4a4a4a" text-anchor="start">0.200</text><text transform="translate(1167.4,58.7) scale(1.1,1)" font-family='"Liberation Sans", sans-serif' font-size="7.6" font-weight="bold" fill="#4a4a4a" text-anchor="start">0.187</text><text transform="translate(1167.4,69.5) scale(1.1,1)" font-family='"Liberation Sans", sans-serif' font-size="7.6" font-weight="bold" fill="#4a4a4a" text-anchor="start">0.173</text><text transform="translate(1167.4,80.2) scale(1.1,1)" font-family='"Liberation Sans", sans-serif' font-size="7.6" font-weight="bold" fill="#4a4a4a" text-anchor="start">0.160</text><text transform="translate(1167.4,91.0) scale(1.1,1)" font-family='"Liberation Sans", sans-serif' font-size="7.6" font-weight="bold" fill="#4a4a4a" text-anchor="start">0.146</text><text transform="translate(1167.4,101.7) scale(1.1,1)" font-family='"Liberation Sans", sans-serif' font-size="7.6" font-weight="bold" fill="#4a4a4a" text-anchor="start">0.133</text><text transform="translate(1167.4,112.4) scale(1.1,1)" font-family='"Liberation Sans", sans-serif' font-size="7.6" font-weight="bold" fill="#4a4a4a" text-anchor="start">0.119</text><text transform="translate(1167.4,123.2) scale(1.1,1)" font-family='"Liberation Sans", sans-serif' font-size="7.6" font-weight="bold" fill="#4a4a4a" text-anchor="start">0.106</text><text transform="translate(1167.4,133.9) scale(1.1,1)" font-family='"Liberation Sans", sans-serif' font-size="7.6" font-weight="bold" fill="#4a4a4a" text-anchor="start">0.093</text><text transform="translate(1167.4,144.7) scale(1.1,1)" font-family='"Liberation Sans", sans-serif' font-size="7.6" font-weight="bold" fill="#4a4a4a" text-anchor="start">0.079</text><text transform="translate(1167.4,155.4) scale(1.1,1)" font-family='"Liberation Sans", sans-serif' font-size="7.6" font-weight="bold" fill="#4a4a4a" text-anchor="start">0.066</text><text transform="translate(1167.4,166.1) scale(1.1,1)" font-family='"Liberation Sans", sans-serif' font-size="7.6" font-weight="bold" fill="#4a4a4a" text-anchor="start">0.052</text><text transform="translate(1167.4,176.9) scale(1.1,1)" font-family='"Liberation Sans", sans-serif' font-size="7.6" font-weight="bold" fill="#4a4a4a" text-anchor="start">0.039</text><text transform="translate(1167.4,187.6) scale(1.1,1)" font-family='"Liberation Sans", sans-serif' font-size="7.6" font-weight="bold" fill="#4a4a4a" text-anchor="start">0.025</text><text transform="translate(1167.4,198.4) scale(1.1,1)" font-family='"Liberation Sans", sans-serif' font-size="7.6" font-weight="bold" fill="#4a4a4a" text-anchor="start">0.012</text></g>
<g><line x1="915.8" y1="460.0" x2="915.8" y2="364.5" stroke="#6c6c6c" stroke-width="0.85" fill="none"/><line x1="937.0" y1="447.6" x2="937.0" y2="352.1" stroke="#6c6c6c" stroke-width="0.85" fill="none"/><line x1="958.2" y1="435.2" x2="958.2" y2="339.7" stroke="#6c6c6c" stroke-width="0.85" fill="none"/><line x1="979.4" y1="422.8" x2="979.4" y2="327.3" stroke="#6c6c6c" stroke-width="0.85" fill="none"/><line x1="1000.6" y1="410.4" x2="1000.6" y2="314.9" stroke="#6c6c6c" stroke-width="0.85" fill="none"/><line x1="1021.8" y1="398.0" x2="1021.8" y2="302.5" stroke="#6c6c6c" stroke-width="0.85" fill="none"/><line x1="915.8" y1="460.0" x2="1021.8" y2="398.0" stroke="#6c6c6c" stroke-width="0.85" fill="none"/><line x1="915.8" y1="444.1" x2="1021.8" y2="382.1" stroke="#6c6c6c" stroke-width="0.85" fill="none"/><line x1="915.8" y1="428.2" x2="1021.8" y2="366.2" stroke="#6c6c6c" stroke-width="0.85" fill="none"/><line x1="915.8" y1="412.2" x2="1021.8" y2="350.2" stroke="#6c6c6c" stroke-width="0.85" fill="none"/><line x1="915.8" y1="396.3" x2="1021.8" y2="334.3" stroke="#6c6c6c" stroke-width="0.85" fill="none"/><line x1="915.8" y1="380.4" x2="1021.8" y2="318.4" stroke="#6c6c6c" stroke-width="0.85" fill="none"/><line x1="915.8" y1="364.5" x2="1021.8" y2="302.5" stroke="#6c6c6c" stroke-width="0.85" fill="none"/><line x1="1021.8" y1="398.0" x2="1021.8" y2="302.5" stroke="#6c6c6c" stroke-width="0.85" fill="none"/><line x1="1043.1" y1="410.5" x2="1043.1" y2="315.0" stroke="#6c6c6c" stroke-width="0.85" fill="none"/><line x1="1064.5" y1="423.0" x2="1064.5" y2="327.5" stroke="#6c6c6c" stroke-width="0.85" fill="none"/><line x1="1085.8" y1="435.5" x2="1085.8" y2="340.0" stroke="#6c6c6c" stroke-width="0.85" fill="none"/><line x1="1107.2" y1="448.0" x2="1107.2" y2="352.5" stroke="#6c6c6c" stroke-width="0.85" fill="none"/><line x1="1128.5" y1="460.5" x2="1128.5" y2="365.0" stroke="#6c6c6c" stroke-width="0.85" fill="none"/><line x1="1021.8" y1="398.0" x2="1128.5" y2="460.5" stroke="#6c6c6c" stroke-width="0.85" fill="none"/><line x1="1021.8" y1="382.1" x2="1128.5" y2="444.6" stroke="#6c6c6c" stroke-width="0.85" fill="none"/><line x1="1021.8" y1="366.2" x2="1128.5" y2="428.7" stroke="#6c6c6c" stroke-width="0.85" fill="none"/><line x1="1021.8" y1="350.2" x2="1128.5" y2="412.8" stroke="#6c6c6c" stroke-width="0.85" fill="none"/><line x1="1021.8" y1="334.3" x2="1128.5" y2="396.8" stroke="#6c6c6c" stroke-width="0.85" fill="none"/><line x1="1021.8" y1="318.4" x2="1128.5" y2="380.9" stroke="#6c6c6c" stroke-width="0.85" fill="none"/><line x1="1021.8" y1="302.5" x2="1128.5" y2="365.0" stroke="#6c6c6c" stroke-width="0.85" fill="none"/><line x1="915.8" y1="460.0" x2="1021.8" y2="398.0" stroke="#6c6c6c" stroke-width="0.85" fill="none"/><line x1="937.1" y1="472.5" x2="1043.1" y2="410.5" stroke="#6c6c6c" stroke-width="0.85" fill="none"/><line x1="958.5" y1="485.0" x2="1064.5" y2="423.0" stroke="#6c6c6c" stroke-width="0.85" fill="none"/><line x1="979.8" y1="497.5" x2="1085.8" y2="435.5" stroke="#6c6c6c" stroke-width="0.85" fill="none"/><line x1="1001.2" y1="510.0" x2="1107.2" y2="448.0" stroke="#6c6c6c" stroke-width="0.85" fill="none"/><line x1="1022.5" y1="522.5" x2="1128.5" y2="460.5" stroke="#6c6c6c" stroke-width="0.85" fill="none"/><line x1="915.8" y1="460.0" x2="1022.5" y2="522.5" stroke="#6c6c6c" stroke-width="0.85" fill="none"/><line x1="937.0" y1="447.6" x2="1043.7" y2="510.1" stroke="#6c6c6c" stroke-width="0.85" fill="none"/><line x1="958.2" y1="435.2" x2="1064.9" y2="497.7" stroke="#6c6c6c" stroke-width="0.85" fill="none"/><line x1="979.4" y1="422.8" x2="1086.1" y2="485.3" stroke="#6c6c6c" stroke-width="0.85" fill="none"/><line x1="1000.6" y1="410.4" x2="1107.3" y2="472.9" stroke="#6c6c6c" stroke-width="0.85" fill="none"/><line x1="1021.8" y1="398.0" x2="1128.5" y2="460.5" stroke="#6c6c6c" stroke-width="0.85" fill="none"/><path fill="#1420e8" fill-rule="evenodd" d="M1021.5 350.5 1018.5 352.5 1016.8 353.2 1014.5 354.8 1009.5 357.5 1008.8 358.2 1007.2 358.8 1004.8 360.5 1003.2 361.2 1000.8 362.8 999.2 363.5 996.8 365.2 995.2 365.8 991.2 368.5 989.5 369.2 987.2 370.8 981.5 373.8 980.8 374.5 980.2 374.5 977.8 372.8 974.5 371.2 972.5 370.8 972.2 370.5 970.8 370.5 970.5 370.2 965.5 370.5 960.5 372.5 954.2 377.2 948.8 382.5 948.8 382.8 943.8 388.2 943.8 388.5 937.8 395.2 937.8 395.5 929.2 404.2 925.5 406.8 924.5 407.2 923.8 407.8 922.8 408.2 922.2 408.8 916.2 412.2 919.2 414.2 920.2 414.5 920.8 415.2 922.5 415.8 924.8 417.5 927.2 418.5 928.8 419.8 931.2 420.8 932.8 422.2 935.2 423.2 936.8 424.5 939.2 425.5 942.5 427.8 943.2 427.8 946.5 430.2 948.8 431.2 950.5 432.5 952.8 433.5 956.2 435.8 958.5 436.8 960.2 438.2 961.8 438.8 962.5 439.5 967.5 442.2 968.2 442.8 969.2 443.2 969.8 443.8 973.2 445.5 973.8 446.2 974.8 446.5 975.5 447.2 976.5 447.5 977.2 448.2 980.2 449.8 982.8 452.2 983.2 452.2 990.2 459.2 990.2 459.5 992.8 462.2 992.8 462.5 994.8 464.5 994.8 464.8 1000.8 471.5 1000.8 471.8 1009.2 480.2 1012.8 482.8 1016.8 484.8 1017.5 484.8 1018.8 485.5 1020.5 485.5 1020.8 485.8 1023.8 485.8 1024.2 485.5 1025.8 485.5 1030.8 483.5 1037.5 478.5 1042.2 473.8 1042.2 473.5 1044.8 470.8 1044.8 470.5 1047.2 468.2 1047.2 467.8 1049.2 465.8 1049.2 465.5 1051.2 463.5 1053.2 460.8 1056.8 457.2 1056.8 456.8 1063.8 450.5 1066.8 448.5 1068.5 447.8 1070.8 446.2 1075.8 443.5 1076.5 442.8 1078.2 442.2 1080.5 440.5 1082.2 439.8 1084.5 438.2 1086.2 437.5 1086.8 436.8 1090.2 435.2 1094.2 432.5 1095.8 431.8 1098.2 430.2 1099.8 429.5 1102.2 427.8 1103.8 427.2 1106.2 425.5 1107.8 424.8 1111.8 422.2 1113.5 421.5 1115.8 419.8 1117.5 419.2 1119.8 417.5 1121.5 416.8 1122.2 416.2 1128.2 412.8 1125.2 410.8 1120.2 408.2 1119.5 407.5 1118.5 407.2 1116.2 405.5 1114.5 403.8 1114.2 403.8 1107.8 397.5 1107.8 397.2 1103.2 392.2 1101.5 389.8 1099.5 387.8 1097.5 385.2 1094.2 381.8 1094.2 381.5 1088.2 375.8 1083.8 372.8 1080.2 371.2 1079.2 371.2 1077.5 370.5 1073.2 370.5 1072.8 370.8 1071.5 370.8 1071.2 371.2 1069.5 371.5 1063.5 374.8 1062.5 374.2 1061.8 374.2 1058.5 371.8 1057.8 371.8 1054.5 369.5 1053.8 369.5 1052.2 368.2 1051.2 367.8 1049.5 366.5 1048.8 366.5 1044.8 363.8 1044.2 363.8 1042.5 362.5 1039.2 360.8 1035.8 358.5 1035.2 358.5 1031.8 356.2 1029.5 355.2 1026.2 352.8 1023.8 351.8 1022.2 350.5z"/><path fill="#1428ec" fill-rule="evenodd" d="M1021.5 350.5 1018.5 352.5 1016.8 353.2 1014.5 354.8 1009.5 357.5 1008.8 358.2 1007.2 358.8 1004.8 360.5 1003.2 361.2 1000.8 362.8 999.2 363.5 996.8 365.2 995.2 365.8 991.2 368.5 989.5 369.2 987.2 370.8 981.5 373.8 980.8 374.5 980.2 374.5 977.8 372.8 974.5 371.2 972.5 370.8 972.2 370.5 970.8 370.5 970.5 370.2 965.5 370.5 960.5 372.5 954.2 377.2 948.8 382.5 948.8 382.8 943.8 388.2 943.8 388.5 937.8 395.2 937.8 395.5 929.2 404.2 925.5 406.8 924.5 407.2 923.8 407.8 922.8 408.2 922.2 408.8 916.2 412.2 919.2 414.2 920.2 414.5 920.8 415.2 922.5 415.8 924.8 417.5 927.2 418.5 928.8 419.8 931.2 420.8 932.8 422.2 935.2 423.2 936.8 424.5 939.2 425.5 942.5 427.8 943.2 427.8 946.5 430.2 948.8 431.2 950.5 432.5 952.8 433.5 956.2 435.8 958.5 436.8 960.2 438.2 961.8 438.8 962.5 439.5 967.5 442.2 968.2 442.8 969.2 443.2 969.8 443.8 973.2 445.5 973.8 446.2 974.8 446.5 975.5 447.2 976.5 447.5 977.2 448.2 980.2 449.8 982.8 452.2 983.2 452.2 990.2 459.2 990.2 459.5 992.8 462.2 992.8 462.5 994.8 464.5 994.8 464.8 1000.8 471.5 1000.8 471.8 1009.2 480.2 1012.8 482.8 1016.8 484.8 1017.5 484.8 1018.8 485.5 1020.5 485.5 1020.8 485.8 1023.8 485.8 1024.2 485.5 1025.8 485.5 1030.8 483.5 1037.5 478.5 1042.2 473.8 1042.2 473.5 1044.8 470.8 1044.8 470.5 1047.2 468.2 1047.2 467.8 1049.2 465.8 1049.2 465.5 1051.2 463.5 1053.2 460.8 1056.8 457.2 1056.8 456.8 1063.8 450.5 1066.8 448.5 1068.5 447.8 1070.8 446.2 1075.8 443.5 1076.5 442.8 1078.2 442.2 1080.5 440.5 1082.2 439.8 1084.5 438.2 1086.2 437.5 1086.8 436.8 1090.2 435.2 1094.2 432.5 1095.8 431.8 1098.2 430.2 1099.8 429.5 1102.2 427.8 1103.8 427.2 1106.2 425.5 1107.8 424.8 1111.8 422.2 1113.5 421.5 1115.8 419.8 1117.5 419.2 1119.8 417.5 1121.5 416.8 1122.2 416.2 1128.2 412.8 1125.2 410.8 1120.2 408.2 1119.5 407.5 1118.5 407.2 1116.2 405.5 1114.5 403.8 1114.2 403.8 1107.8 397.5 1107.8 397.2 1103.2 392.2 1101.5 389.8 1099.5 387.8 1097.5 385.2 1094.2 381.8 1094.2 381.5 1088.2 375.8 1083.8 372.8 1080.2 371.2 1079.2 371.2 1077.5 370.5 1073.2 370.5 1072.8 370.8 1071.5 370.8 1071.2 371.2 1069.5 371.5 1063.5 374.8 1062.5 374.2 1061.8 374.2 1058.5 371.8 1057.8 371.8 1054.5 369.5 1053.8 369.5 1052.2 368.2 1051.2 367.8 1049.5 366.5 1048.8 366.5 1044.8 363.8 1044.2 363.8 1042.5 362.5 1039.2 360.8 1035.8 358.5 1035.2 358.5 1031.8 356.2 1029.5 355.2 1026.2 352.8 1023.8 351.8 1022.2 350.5z"/><path fill="#1464f2" fill-rule="evenodd" d="M1021.5 350.5 1018.5 352.5 1016.8 353.2 1014.5 354.8 1009.5 357.5 1008.8 358.2 1007.2 358.8 1004.8 360.5 1003.2 361.2 1000.8 362.8 999.2 363.5 996.8 365.2 995.2 365.8 991.2 368.5 989.5 369.2 987.2 370.8 981.5 373.8 980.8 374.5 980.2 374.5 977.8 372.8 974.5 371.2 972.5 370.8 972.2 370.5 970.8 370.5 970.5 370.2 965.5 370.5 960.5 372.5 954.2 377.2 948.8 382.5 948.8 382.8 943.8 388.2 943.8 388.5 937.8 395.2 937.8 395.5 929.2 404.2 925.5 406.8 924.5 407.2 923.8 407.8 922.8 408.2 922.2 408.8 916.2 412.2 919.2 414.2 920.2 414.5 920.8 415.2 922.5 415.8 924.8 417.5 927.2 418.5 928.8 419.8 931.2 420.8 932.8 422.2 935.2 423.2 936.8 424.5 939.2 425.5 942.5 427.8 943.2 427.8 946.5 430.2 948.8 431.2 950.5 432.5 952.8 433.5 956.2 435.8 958.5 436.8 960.2 438.2 961.8 438.8 962.5 439.5 967.5 442.2 968.2 442.8 969.2 443.2 969.8 443.8 973.2 445.5 973.8 446.2 974.8 446.5 975.5 447.2 976.5 447.5 977.2 448.2 980.2 449.8 982.8 452.2 983.2 452.2 990.2 459.2 990.2 459.5 992.8 462.2 992.8 462.5 994.8 464.5 994.8 464.8 1000.8 471.5 1000.8 471.8 1009.2 480.2 1010.5 481.2 1011.5 481.5 1012.8 482.5 1013.5 482.5 1014.5 483.2 1015.2 483.2 1016.5 483.8 1017.5 483.8 1017.8 484.2 1019.8 484.2 1020.2 484.5 1024.8 484.5 1025.2 484.2 1026.8 484.2 1027.2 483.8 1028.2 483.8 1028.5 483.5 1029.5 483.5 1030.5 482.8 1031.2 482.8 1033.8 481.5 1037.2 478.5 1037.5 478.5 1042.2 473.8 1042.2 473.5 1044.8 470.8 1044.8 470.5 1047.2 468.2 1047.2 467.8 1049.2 465.8 1049.2 465.5 1051.2 463.5 1053.2 460.8 1056.8 457.2 1056.8 456.8 1063.8 450.5 1066.8 448.5 1068.5 447.8 1070.8 446.2 1075.8 443.5 1076.5 442.8 1078.2 442.2 1080.5 440.5 1082.2 439.8 1084.5 438.2 1086.2 437.5 1086.8 436.8 1090.2 435.2 1094.2 432.5 1095.8 431.8 1098.2 430.2 1099.8 429.5 1102.2 427.8 1103.8 427.2 1106.2 425.5 1107.8 424.8 1111.8 422.2 1113.5 421.5 1115.8 419.8 1117.5 419.2 1119.8 417.5 1121.5 416.8 1122.2 416.2 1128.2 412.8 1125.2 410.8 1120.2 408.2 1119.5 407.5 1118.5 407.2 1116.2 405.5 1114.5 403.8 1114.2 403.8 1107.8 397.5 1107.8 397.2 1103.2 392.2 1101.5 389.8 1099.5 387.8 1097.5 385.2 1094.2 381.8 1094.2 381.5 1088.2 375.8 1083.8 372.8 1080.2 371.2 1079.2 371.2 1077.5 370.5 1073.2 370.5 1072.8 370.8 1071.5 370.8 1071.2 371.2 1069.5 371.5 1063.5 374.8 1062.5 374.2 1061.8 374.2 1058.5 371.8 1057.8 371.8 1054.5 369.5 1053.8 369.5 1052.2 368.2 1051.2 367.8 1049.5 366.5 1048.8 366.5 1044.8 363.8 1044.2 363.8 1042.5 362.5 1039.2 360.8 1035.8 358.5 1035.2 358.5 1031.8 356.2 1029.5 355.2 1026.2 352.8 1023.8 351.8 1022.2 350.5zM1012.2 468.8 1013.5 467.8 1015.2 467.5 1016.2 466.8 1018.8 466.5 1019.2 466.2 1019.5 466.5 1019.8 466.2 1024.5 466.2 1024.8 466.5 1025.2 466.2 1025.5 466.5 1028.5 466.8 1032.8 468.8 1028.8 471.2 1028.2 471.2 1025.8 472.2 1024.2 472.2 1023.8 472.5 1019.2 472.2 1018.8 471.8 1016.2 471.2zM1011.8 406.5 1013.2 405.5 1014.2 405.5 1016.2 404.5 1019.8 404.2 1020.2 403.8 1022.5 403.8 1022.8 404.2 1023.5 403.8 1023.8 404.2 1027.5 404.5 1027.8 404.8 1031.5 405.8 1032.2 406.5 1031.2 407.5 1027.8 409.2 1027.2 409.2 1025.8 409.8 1024.5 409.8 1024.2 410.2 1020.2 410.2 1019.8 409.8 1018.5 409.8 1018.2 409.5 1016.5 409.2 1013.2 407.5z"/><path fill="#10acf2" fill-rule="evenodd" d="M1021.5 350.5 1018.5 352.5 1016.8 353.2 1014.5 354.8 1009.5 357.5 1008.8 358.2 1007.2 358.8 1004.8 360.5 1003.2 361.2 1000.8 362.8 999.2 363.5 996.8 365.2 995.2 365.8 991.2 368.5 989.5 369.2 987.2 370.8 981.5 373.8 980.8 374.5 980.2 374.5 977.8 372.8 974.5 371.2 972.5 370.8 972.2 370.5 970.8 370.5 970.5 370.2 965.5 370.5 960.5 372.5 954.2 377.2 948.8 382.5 948.8 382.8 943.8 388.2 943.8 388.5 937.8 395.2 937.8 395.5 929.2 404.2 925.5 406.8 924.5 407.2 923.8 407.8 922.8 408.2 922.2 408.8 916.2 412.2 919.2 414.2 920.2 414.5 920.8 415.2 922.5 415.8 924.8 417.5 927.2 418.5 928.8 419.8 931.2 420.8 932.8 422.2 935.2 423.2 936.8 424.5 939.2 425.5 942.5 427.8 943.2 427.8 946.5 430.2 948.8 431.2 950.5 432.5 952.8 433.5 956.2 435.8 958.5 436.8 960.2 438.2 961.8 438.8 962.5 439.5 967.5 442.2 968.2 442.8 969.2 443.2 969.8 443.8 973.2 445.5 973.8 446.2 974.8 446.5 975.5 447.2 976.5 447.5 977.2 448.2 980.2 449.8 982.8 452.2 983.2 452.2 990.2 459.2 990.2 459.5 992.8 462.2 992.8 462.5 994.8 464.5 994.8 464.8 1000.8 471.5 1000.8 471.8 1007.2 477.8 1008.8 478.5 1010.2 479.5 1010.8 479.5 1011.8 480.2 1012.5 480.2 1015.8 481.5 1019.5 481.8 1019.8 482.2 1025.2 482.2 1025.5 481.8 1027.5 481.8 1027.8 481.5 1028.8 481.5 1029.2 481.2 1030.2 481.2 1030.5 480.8 1033.2 480.2 1037.2 478.2 1039.5 476.5 1044.8 470.8 1044.8 470.5 1047.2 468.2 1047.2 467.8 1049.2 465.8 1049.2 465.5 1051.2 463.5 1053.2 460.8 1056.8 457.2 1056.8 456.8 1063.8 450.5 1066.8 448.5 1068.5 447.8 1070.8 446.2 1075.8 443.5 1076.5 442.8 1078.2 442.2 1080.5 440.5 1082.2 439.8 1084.5 438.2 1086.2 437.5 1086.8 436.8 1090.2 435.2 1094.2 432.5 1095.8 431.8 1098.2 430.2 1099.8 429.5 1102.2 427.8 1103.8 427.2 1106.2 425.5 1107.8 424.8 1111.8 422.2 1113.5 421.5 1115.8 419.8 1117.5 419.2 1119.8 417.5 1121.5 416.8 1122.2 416.2 1128.2 412.8 1125.2 410.8 1120.2 408.2 1119.5 407.5 1118.5 407.2 1116.2 405.5 1114.5 403.8 1114.2 403.8 1107.8 397.5 1107.8 397.2 1103.2 392.2 1101.5 389.8 1099.5 387.8 1097.5 385.2 1094.2 381.8 1094.2 381.5 1088.2 375.8 1083.8 372.8 1080.2 371.2 1079.2 371.2 1077.5 370.5 1073.2 370.5 1072.8 370.8 1071.5 370.8 1071.2 371.2 1069.5 371.5 1063.5 374.8 1062.5 374.2 1061.8 374.2 1058.5 371.8 1057.8 371.8 1054.5 369.5 1053.8 369.5 1052.2 368.2 1051.2 367.8 1049.5 366.5 1048.8 366.5 1044.8 363.8 1044.2 363.8 1042.5 362.5 1039.2 360.8 1035.8 358.5 1035.2 358.5 1031.8 356.2 1029.5 355.2 1026.2 352.8 1023.8 351.8 1022.2 350.5zM1004.8 463.8 1007.5 461.8 1010.2 460.5 1010.8 460.5 1011.5 459.8 1012.5 459.8 1013.5 459.2 1014.5 459.2 1014.8 458.8 1015.8 458.8 1017.5 458.2 1019.2 458.2 1019.5 457.8 1019.8 458.2 1020.5 457.8 1024.8 457.8 1025.2 458.2 1028.8 458.5 1029.2 458.8 1031.8 459.5 1032.8 460.2 1033.5 460.2 1034.5 460.8 1035.2 460.8 1035.8 461.5 1038.8 463.2 1040.2 464.5 1037.2 466.5 1035.5 467.2 1034.8 467.8 1028.8 471.2 1028.2 471.2 1025.8 472.2 1021.5 472.5 1021.2 472.2 1019.2 472.2 1014.2 470.2 1013.5 469.5 1011.8 468.8 1011.2 468.2 1004.8 464.5zM1005.5 401.2 1006.8 399.8 1014.2 396.5 1016.8 396.2 1017.2 395.8 1017.5 396.2 1017.8 395.8 1019.5 395.8 1019.8 395.5 1020.2 395.8 1021.8 395.8 1022.2 395.5 1022.8 395.5 1023.2 395.8 1023.5 395.5 1023.8 395.8 1027.8 396.2 1028.2 396.5 1029.2 396.5 1029.5 396.8 1032.2 397.5 1037.5 400.2 1038.5 401.5 1034.2 405.5 1031.2 407.5 1027.8 409.2 1027.2 409.2 1025.8 409.8 1024.5 409.8 1024.2 410.2 1020.2 410.2 1019.8 409.8 1018.5 409.8 1018.2 409.5 1016.5 409.2 1013.2 407.5 1008.5 404.2z"/><path fill="#10e4f6" fill-rule="evenodd" d="M1021.5 350.5 1018.5 352.5 1016.8 353.2 1014.5 354.8 1009.5 357.5 1008.8 358.2 1007.2 358.8 1004.8 360.5 1003.2 361.2 1000.8 362.8 999.2 363.5 996.8 365.2 995.2 365.8 991.2 368.5 989.5 369.2 987.2 370.8 981.5 373.8 980.8 374.5 980.2 374.5 977.8 372.8 974.5 371.2 972.5 370.8 972.2 370.5 970.8 370.5 970.5 370.2 965.5 370.5 960.5 372.5 954.2 377.2 948.8 382.5 948.8 382.8 943.8 388.2 943.8 388.5 937.8 395.2 937.8 395.5 929.2 404.2 925.5 406.8 924.5 407.2 923.8 407.8 922.8 408.2 922.2 408.8 916.2 412.2 919.2 414.2 920.2 414.5 920.8 415.2 922.5 415.8 924.8 417.5 927.2 418.5 928.8 419.8 931.2 420.8 932.8 422.2 935.2 423.2 936.8 424.5 939.2 425.5 942.5 427.8 943.2 427.8 946.5 430.2 948.8 431.2 950.5 432.5 952.8 433.5 956.2 435.8 958.5 436.8 960.2 438.2 961.8 438.8 962.5 439.5 967.5 442.2 968.2 442.8 969.2 443.2 969.8 443.8 973.2 445.5 973.8 446.2 974.8 446.5 975.5 447.2 976.5 447.5 977.2 448.2 980.2 449.8 982.8 452.2 983.2 452.2 990.2 459.2 990.2 459.5 992.8 462.2 992.8 462.5 994.8 464.5 994.8 464.8 998.5 468.8 998.5 469.2 1001.5 472.2 1003.8 473.8 1010.2 477.2 1010.8 477.2 1014.2 478.5 1015.2 478.5 1016.8 479.2 1018.8 479.2 1019.2 479.5 1026.2 479.5 1026.5 479.2 1029.5 478.8 1029.8 478.5 1030.8 478.5 1031.2 478.2 1033.8 477.5 1035.5 476.5 1036.2 476.5 1038.8 475.2 1042.8 472.5 1047.2 468.2 1047.2 467.8 1049.2 465.8 1049.2 465.5 1051.2 463.5 1053.2 460.8 1056.8 457.2 1056.8 456.8 1062.2 451.8 1066.8 448.5 1068.5 447.8 1069.2 447.2 1072.5 445.5 1076.5 442.8 1078.2 442.2 1080.5 440.5 1082.2 439.8 1084.5 438.2 1086.2 437.5 1086.8 436.8 1090.2 435.2 1094.2 432.5 1095.8 431.8 1098.2 430.2 1099.8 429.5 1102.2 427.8 1103.8 427.2 1106.2 425.5 1107.8 424.8 1111.8 422.2 1113.5 421.5 1115.8 419.8 1117.5 419.2 1119.8 417.5 1121.5 416.8 1122.2 416.2 1128.2 412.8 1125.2 410.8 1120.2 408.2 1119.5 407.5 1118.5 407.2 1116.2 405.5 1114.5 403.8 1114.2 403.8 1107.8 397.5 1107.8 397.2 1103.2 392.2 1101.5 389.8 1099.5 387.8 1097.5 385.2 1094.2 381.8 1094.2 381.5 1088.2 375.8 1083.8 372.8 1080.2 371.2 1079.2 371.2 1077.5 370.5 1073.2 370.5 1072.8 370.8 1071.5 370.8 1071.2 371.2 1069.5 371.5 1063.5 374.8 1062.5 374.2 1061.8 374.2 1058.5 371.8 1057.8 371.8 1054.5 369.5 1053.8 369.5 1052.2 368.2 1051.2 367.8 1049.5 366.5 1048.8 366.5 1044.8 363.8 1044.2 363.8 1042.5 362.5 1039.2 360.8 1035.8 358.5 1035.2 358.5 1031.8 356.2 1029.5 355.2 1026.2 352.8 1023.8 351.8 1022.2 350.5zM998.2 460.5 1001.5 457.2 1004.2 455.2 1006.5 454.2 1008.5 452.8 1010.2 452.5 1011.8 451.5 1013.8 451.2 1014.2 450.8 1015.5 450.8 1017.2 450.2 1018.8 450.2 1019.2 449.8 1019.5 450.2 1019.8 449.8 1023.8 449.8 1024.2 450.2 1024.5 449.8 1024.8 450.2 1025.2 449.8 1025.5 450.2 1027.2 450.2 1027.5 450.5 1028.8 450.5 1031.5 451.5 1032.5 451.5 1033.2 452.2 1034.2 452.2 1035.8 453.2 1036.5 453.2 1037.2 453.8 1038.5 454.2 1043.8 457.8 1046.5 460.8 1028.8 471.2 1028.2 471.2 1025.8 472.2 1021.5 472.5 1021.2 472.2 1019.2 472.2 1014.2 470.2 1013.5 469.5 1011.8 468.8 1007.8 466.2 1002.2 463.2zM1000.5 395.8 1001.2 394.8 1002.5 394.2 1003.5 393.2 1010.8 389.5 1011.5 389.5 1012.8 388.8 1014.2 388.8 1015.5 388.2 1018.8 387.8 1019.2 387.5 1019.5 387.8 1020.2 387.8 1020.5 387.5 1021.8 387.5 1022.2 387.8 1022.5 387.5 1023.2 387.5 1023.5 387.8 1023.8 387.5 1024.2 387.8 1026.5 387.8 1028.2 388.5 1029.5 388.5 1030.8 389.2 1032.8 389.5 1033.5 390.2 1034.5 390.2 1036.2 391.2 1036.8 391.2 1042.5 394.8 1043.5 395.8 1043.5 396.5 1036.2 403.8 1031.2 407.5 1025.8 409.8 1024.5 409.8 1024.2 410.2 1020.2 410.2 1019.8 409.8 1018.5 409.8 1018.2 409.5 1016.5 409.2 1013.2 407.5 1010.2 405.5 1008.8 404.2 1008.5 404.2 1000.8 396.5z"/><path fill="#10eab0" fill-rule="evenodd" d="M916.2 412.2 919.2 414.2 920.2 414.5 920.8 415.2 922.5 415.8 924.8 417.5 927.2 418.5 928.8 419.8 931.2 420.8 932.8 422.2 935.2 423.2 936.8 424.5 939.2 425.5 942.5 427.8 943.2 427.8 946.5 430.2 948.8 431.2 950.5 432.5 952.8 433.5 956.2 435.8 958.5 436.8 960.2 438.2 961.8 438.8 962.5 439.5 967.5 442.2 968.2 442.8 969.2 443.2 969.8 443.8 973.2 445.5 973.8 446.2 974.8 446.5 975.5 447.2 976.5 447.5 977.2 448.2 980.2 449.8 982.8 452.2 983.2 452.2 990.2 459.2 990.2 459.5 996.5 466.5 1001.5 470.2 1010.2 474.5 1010.8 474.5 1014.2 475.8 1015.2 475.8 1016.8 476.5 1018.5 476.5 1018.8 476.8 1025.8 476.8 1026.2 476.5 1028.2 476.5 1028.5 476.2 1029.5 476.2 1029.8 475.8 1033.2 475.2 1041.2 471.5 1047.2 467.5 1051.2 463.5 1051.2 463.2 1056.8 457.2 1056.8 456.8 1063.8 450.5 1066.8 448.5 1068.5 447.8 1070.8 446.2 1075.8 443.5 1076.5 442.8 1078.2 442.2 1080.5 440.5 1082.2 439.8 1084.5 438.2 1086.2 437.5 1086.8 436.8 1090.2 435.2 1094.2 432.5 1095.8 431.8 1098.2 430.2 1099.8 429.5 1102.2 427.8 1103.8 427.2 1106.2 425.5 1107.8 424.8 1111.8 422.2 1113.5 421.5 1115.8 419.8 1117.5 419.2 1119.8 417.5 1121.5 416.8 1122.2 416.2 1128.2 412.8 1125.2 410.8 1120.2 408.2 1119.5 407.5 1118.5 407.2 1116.2 405.5 1114.5 403.8 1114.2 403.8 1107.8 397.5 1107.8 397.2 1103.2 392.2 1101.5 389.8 1099.5 387.8 1097.5 385.2 1094.2 381.8 1094.2 381.5 1088.2 375.8 1083.8 372.8 1080.2 371.2 1079.2 371.2 1077.5 370.5 1073.2 370.5 1072.8 370.8 1071.5 370.8 1071.2 371.2 1069.5 371.5 1063.5 374.8 1062.5 374.2 1061.8 374.2 1058.5 371.8 1057.8 371.8 1054.5 369.5 1053.8 369.5 1052.2 368.2 1051.2 367.8 1049.5 366.5 1048.8 366.5 1044.8 363.8 1044.2 363.8 1042.5 362.5 1039.2 360.8 1035.8 358.5 1035.2 358.5 1031.8 356.2 1029.5 355.2 1026.2 352.8 1023.8 351.8 1022.2 350.5 1020.8 350.8 1018.5 352.5 1012.8 355.5 1008.8 358.2 1007.2 358.8 1004.8 360.5 1003.2 361.2 1000.8 362.8 999.2 363.5 998.5 364.2 995.2 365.8 994.5 366.5 989.5 369.2 987.2 370.8 985.5 371.5 983.2 373.2 981.5 373.8 980.8 374.5 980.2 374.5 977.8 372.8 974.5 371.2 972.5 370.8 972.2 370.5 970.8 370.5 970.5 370.2 965.5 370.5 960.5 372.5 954.2 377.2 948.8 382.5 948.8 382.8 943.8 388.2 943.8 388.5 937.8 395.2 937.8 395.5 929.2 404.2 925.5 406.8 924.5 407.2 923.8 407.8 922.8 408.2 922.2 408.8zM992.5 457.2 993.8 454.8 996.5 452.2 996.8 452.2 999.5 449.8 1002.5 448.2 1004.2 446.8 1004.8 446.8 1007.8 445.2 1008.5 445.2 1009.2 444.5 1010.8 444.2 1011.8 443.5 1014.2 443.2 1015.5 442.5 1016.8 442.5 1017.2 442.2 1017.5 442.5 1017.8 442.2 1019.2 442.2 1019.5 441.8 1019.8 442.2 1020.5 441.8 1023.5 441.8 1023.8 442.2 1024.2 441.8 1024.5 442.2 1024.8 441.8 1025.2 442.2 1027.2 442.2 1027.5 442.5 1029.8 442.8 1031.2 443.5 1031.5 443.2 1032.5 443.8 1035.8 444.8 1038.8 446.5 1039.5 446.5 1041.8 448.2 1042.5 448.2 1043.5 449.2 1047.2 451.5 1050.8 455.2 1052.2 457.5 1028.8 471.2 1028.2 471.2 1025.8 472.2 1021.5 472.5 1021.2 472.2 1019.2 472.2 1014.2 470.2 1013.5 469.5 1011.8 468.8 1007.8 466.2 1006.2 465.5 1003.8 463.8 998.2 460.8zM995.8 390.2 999.2 387.5 1000.2 387.2 1002.8 385.2 1003.5 385.2 1004.2 384.5 1007.5 382.8 1009.2 382.5 1010.8 381.5 1012.8 381.2 1014.2 380.5 1015.8 380.5 1017.2 379.8 1017.5 380.2 1017.8 379.8 1021.8 379.8 1022.2 379.5 1023.2 379.8 1023.5 379.5 1023.8 379.8 1028.2 380.2 1029.2 380.8 1030.2 380.8 1030.5 381.2 1030.8 380.8 1032.5 381.8 1034.5 382.2 1036.2 383.2 1036.8 383.2 1038.2 384.2 1038.8 384.2 1040.8 385.2 1042.5 386.5 1044.5 387.5 1048.2 390.5 1048.2 391.2 1043.5 396.2 1043.5 396.5 1034.2 405.5 1031.2 407.5 1027.8 409.2 1027.2 409.2 1025.8 409.8 1024.5 409.8 1024.2 410.2 1020.2 410.2 1019.8 409.8 1018.5 409.8 1018.2 409.5 1016.5 409.2 1013.2 407.5 1008.5 404.2 1000.8 396.5 1000.8 396.2 996.5 391.5z"/><path fill="#18e468" fill-rule="evenodd" d="M916.2 412.2 919.2 414.2 920.2 414.5 920.8 415.2 922.5 415.8 924.8 417.5 927.2 418.5 928.8 419.8 931.2 420.8 932.8 422.2 935.2 423.2 936.8 424.5 939.2 425.5 942.5 427.8 943.2 427.8 946.5 430.2 948.8 431.2 950.5 432.5 952.8 433.5 956.2 435.8 958.5 436.8 960.2 438.2 961.8 438.8 965.8 441.5 967.5 442.2 971.5 444.8 973.2 445.5 973.8 446.2 978.2 448.5 983.2 452.2 990.5 459.5 990.5 459.8 993.2 462.2 1001.2 467.5 1010.8 472.2 1011.5 472.2 1013.8 473.2 1017.5 473.8 1017.8 474.2 1020.2 474.2 1020.5 474.5 1024.5 474.5 1024.8 474.2 1027.2 474.2 1027.5 473.8 1031.2 473.2 1031.5 472.8 1033.2 472.5 1034.2 471.8 1034.8 471.8 1035.8 471.2 1036.5 471.2 1045.5 466.5 1052.2 461.8 1059.2 454.5 1059.5 454.5 1063.8 450.5 1066.8 448.5 1068.5 447.8 1069.2 447.2 1072.5 445.5 1076.5 442.8 1078.2 442.2 1080.5 440.5 1082.2 439.8 1084.5 438.2 1086.2 437.5 1086.8 436.8 1090.2 435.2 1094.2 432.5 1095.8 431.8 1098.2 430.2 1099.8 429.5 1102.2 427.8 1103.8 427.2 1106.2 425.5 1107.8 424.8 1111.8 422.2 1113.5 421.5 1115.8 419.8 1117.5 419.2 1119.8 417.5 1121.5 416.8 1122.2 416.2 1128.2 412.8 1125.2 410.8 1120.2 408.2 1119.5 407.5 1118.5 407.2 1116.2 405.5 1114.5 403.8 1114.2 403.8 1107.8 397.5 1107.8 397.2 1103.2 392.2 1101.5 389.8 1099.5 387.8 1097.5 385.2 1094.2 381.8 1094.2 381.5 1088.2 375.8 1083.8 372.8 1080.2 371.2 1079.2 371.2 1077.5 370.5 1073.2 370.5 1072.8 370.8 1071.5 370.8 1071.2 371.2 1069.5 371.5 1063.5 374.8 1062.5 374.2 1061.8 374.2 1058.5 371.8 1057.8 371.8 1054.5 369.5 1053.8 369.5 1052.2 368.2 1051.2 367.8 1049.5 366.5 1048.8 366.5 1044.8 363.8 1044.2 363.8 1042.5 362.5 1039.2 360.8 1035.8 358.5 1035.2 358.5 1031.8 356.2 1029.5 355.2 1026.2 352.8 1023.8 351.8 1022.2 350.5 1020.8 350.8 1018.5 352.5 1012.8 355.5 1008.8 358.2 1007.2 358.8 1004.8 360.5 1003.2 361.2 1000.8 362.8 999.2 363.5 998.5 364.2 995.2 365.8 994.5 366.5 989.5 369.2 987.2 370.8 985.5 371.5 983.2 373.2 981.5 373.8 980.8 374.5 980.2 374.5 977.8 372.8 974.5 371.2 972.5 370.8 972.2 370.5 970.8 370.5 970.5 370.2 965.5 370.5 960.5 372.5 954.2 377.2 948.8 382.5 948.8 382.8 943.8 388.2 943.8 388.5 937.8 395.2 937.8 395.5 929.2 404.2 925.5 406.8 924.5 407.2 923.8 407.8 922.8 408.2 922.2 408.8zM987.5 452.5 988.5 450.5 991.2 447.5 991.5 447.5 995.8 443.8 996.8 443.5 1001.8 440.2 1002.5 440.2 1003.5 439.2 1004.2 439.2 1007.8 437.2 1010.2 436.5 1011.8 435.5 1013.8 435.2 1015.2 434.5 1018.5 434.2 1018.8 433.8 1025.2 433.8 1025.5 434.2 1027.2 434.2 1027.5 434.5 1030.2 434.8 1030.5 435.2 1033.2 435.8 1034.2 436.5 1034.8 436.5 1035.8 437.2 1036.5 437.2 1046.5 442.5 1051.2 445.8 1055.5 449.8 1056.8 451.8 1056.8 452.5 1057.2 452.8 1057.2 454.5 1054.8 456.2 1053.2 456.8 1050.8 458.5 1049.2 459.2 1048.5 459.8 1045.2 461.5 1042.8 463.2 1041.2 463.8 1040.5 464.5 1035.5 467.2 1033.2 468.8 1031.5 469.5 1030.8 470.2 1025.8 472.2 1021.5 472.5 1021.2 472.2 1019.2 472.2 1014.2 470.2 1013.5 469.5 1011.8 468.8 1007.8 466.2 1006.2 465.5 1003.8 463.8 998.2 460.8 994.2 458.2 988.5 455.2 987.5 454.2zM991.2 385.2 994.2 382.5 996.2 381.5 997.8 380.2 998.8 379.8 999.2 379.2 1009.2 374.2 1010.8 373.8 1012.8 372.8 1014.2 372.8 1014.5 372.5 1015.5 372.5 1017.2 371.8 1018.8 371.8 1019.2 371.5 1019.5 371.8 1019.8 371.5 1024.5 371.5 1024.8 371.8 1026.8 371.8 1027.2 372.2 1029.5 372.5 1029.8 372.8 1033.5 373.8 1034.5 374.5 1035.2 374.5 1037.5 375.8 1038.2 375.8 1038.8 376.5 1039.5 376.5 1040.2 377.2 1045.5 379.8 1046.5 380.8 1049.5 382.5 1050.8 383.8 1052.5 384.8 1052.8 385.5 1046.2 393.2 1046.2 393.5 1043.5 396.2 1043.5 396.5 1034.2 405.5 1031.2 407.5 1027.8 409.2 1027.2 409.2 1025.8 409.8 1024.5 409.8 1024.2 410.2 1020.2 410.2 1019.8 409.8 1018.5 409.8 1018.2 409.5 1016.5 409.2 1013.2 407.5 1008.5 404.2 1000.8 396.5 1000.8 396.2 998.5 393.8 998.5 393.5z"/><path fill="#28e244" fill-rule="evenodd" d="M1021.5 350.5 1018.5 352.5 1016.8 353.2 1014.5 354.8 1009.5 357.5 1008.8 358.2 1007.2 358.8 1004.8 360.5 1003.2 361.2 1000.8 362.8 999.2 363.5 996.8 365.2 995.2 365.8 991.2 368.5 989.5 369.2 987.2 370.8 981.5 373.8 980.8 374.5 980.2 374.5 977.8 372.8 974.5 371.2 972.5 370.8 972.2 370.5 970.8 370.5 970.5 370.2 965.5 370.5 960.5 372.5 954.2 377.2 948.8 382.5 948.8 382.8 943.8 388.2 943.8 388.5 937.8 395.2 937.8 395.5 929.2 404.2 925.5 406.8 924.5 407.2 923.8 407.8 922.8 408.2 922.2 408.8 916.2 412.2 919.2 414.2 920.2 414.5 920.8 415.2 922.5 415.8 924.8 417.5 927.2 418.5 928.8 419.8 931.2 420.8 932.8 422.2 935.2 423.2 936.8 424.5 939.2 425.5 942.5 427.8 943.2 427.8 946.5 430.2 948.8 431.2 950.5 432.5 952.8 433.5 956.2 435.8 958.5 436.8 960.2 438.2 961.8 438.8 965.8 441.5 967.5 442.2 971.5 444.8 973.2 445.5 973.8 446.2 978.2 448.5 983.2 452.2 987.5 456.2 998.8 463.5 1005.5 466.8 1007.5 468.2 1008.2 468.2 1012.8 470.5 1013.5 470.5 1016.8 471.8 1017.8 471.8 1019.8 473.2 1021.5 473.8 1022.2 474.5 1022.8 474.5 1023.5 473.8 1025.2 473.2 1027.2 471.8 1028.2 471.8 1028.5 471.5 1032.2 470.5 1033.2 469.8 1033.8 469.8 1036.2 468.5 1036.8 468.5 1039.5 467.2 1040.2 466.5 1040.8 466.5 1041.5 465.8 1046.2 463.5 1046.8 462.8 1047.8 462.5 1048.5 461.8 1049.5 461.5 1055.2 457.8 1059.5 454.2 1059.8 454.2 1062.2 451.8 1066.8 448.5 1068.5 447.8 1069.2 447.2 1072.5 445.5 1076.5 442.8 1078.2 442.2 1080.5 440.5 1082.2 439.8 1084.5 438.2 1086.2 437.5 1086.8 436.8 1090.2 435.2 1094.2 432.5 1095.8 431.8 1098.2 430.2 1099.8 429.5 1102.2 427.8 1103.8 427.2 1106.2 425.5 1107.8 424.8 1111.8 422.2 1113.5 421.5 1115.8 419.8 1117.5 419.2 1119.8 417.5 1121.5 416.8 1122.2 416.2 1128.2 412.8 1125.2 410.8 1120.2 408.2 1119.5 407.5 1118.5 407.2 1116.2 405.5 1114.5 403.8 1114.2 403.8 1107.8 397.5 1107.8 397.2 1103.2 392.2 1101.5 389.8 1099.5 387.8 1097.5 385.2 1094.2 381.8 1094.2 381.5 1088.2 375.8 1083.8 372.8 1080.2 371.2 1079.2 371.2 1077.5 370.5 1073.2 370.5 1072.8 370.8 1071.5 370.8 1071.2 371.2 1069.5 371.5 1063.5 374.8 1062.5 374.2 1061.8 374.2 1058.5 371.8 1057.8 371.8 1054.5 369.5 1053.8 369.5 1052.2 368.2 1051.2 367.8 1049.5 366.5 1048.8 366.5 1044.8 363.8 1044.2 363.8 1042.5 362.5 1039.2 360.8 1035.8 358.5 1035.2 358.5 1031.8 356.2 1029.5 355.2 1026.2 352.8 1023.8 351.8 1022.2 350.5zM981.5 448.5 981.8 448.2 982.2 446.5 985.8 442.5 990.8 438.8 991.8 438.5 996.2 435.5 999.5 433.8 1001.2 432.5 1001.8 432.5 1002.5 431.8 1003.2 431.8 1003.8 431.2 1007.8 429.2 1008.5 429.2 1009.8 428.2 1011.5 427.8 1012.2 427.2 1013.2 427.2 1014.2 426.5 1015.2 426.5 1016.2 425.8 1018.8 425.5 1019.2 425.2 1019.5 425.5 1019.8 425.2 1024.5 425.2 1024.8 425.5 1025.2 425.2 1025.5 425.5 1026.8 425.5 1028.2 426.2 1029.2 426.2 1029.5 426.5 1031.2 426.8 1032.8 427.8 1033.5 427.8 1035.2 428.8 1035.8 428.8 1037.8 429.8 1038.5 430.5 1039.2 430.5 1041.2 431.8 1044.8 433.5 1049.8 436.8 1050.8 437.2 1054.5 439.8 1055.5 440.2 1058.2 442.5 1058.5 442.5 1061.8 445.8 1062.8 447.5 1063.2 449.2 1062.8 449.5 1062.5 451.2 1060.5 452.8 1058.8 453.5 1054.8 456.2 1053.2 456.8 1050.8 458.5 1049.2 459.2 1048.5 459.8 1045.2 461.5 1042.8 463.2 1041.2 463.8 1040.5 464.5 1035.5 467.2 1033.2 468.8 1031.5 469.5 1030.8 470.2 1025.8 472.2 1021.5 472.5 1021.2 472.2 1019.2 472.2 1014.2 470.2 1013.5 469.5 1011.8 468.8 1007.8 466.2 1006.2 465.5 1003.8 463.8 998.2 460.8 994.2 458.2 988.5 455.2 984.5 452.5 982.8 451.8 981.8 450.5zM986.2 379.8 989.2 377.8 990.5 376.5 991.2 376.5 992.2 375.5 994.8 374.2 995.2 373.5 997.5 372.5 998.2 371.8 999.2 371.5 999.8 370.8 1000.5 370.8 1001.2 370.2 1003.5 369.2 1004.2 368.5 1007.5 367.2 1008.8 366.2 1011.2 365.5 1012.8 364.5 1013.8 364.5 1014.8 363.8 1016.2 363.8 1017.5 363.2 1019.5 363.2 1019.8 362.8 1023.5 362.8 1023.8 363.2 1024.2 362.8 1024.5 363.2 1027.5 363.5 1027.8 363.8 1030.5 364.5 1031.5 365.2 1033.2 365.5 1036.2 367.2 1036.8 367.2 1037.5 367.8 1038.2 367.8 1040.2 369.2 1040.8 369.2 1042.5 370.5 1044.8 371.5 1046.5 372.8 1047.2 372.8 1048.8 374.2 1051.5 375.5 1054.5 377.8 1055.5 378.2 1057.8 380.2 1051.8 386.5 1051.8 386.8 1049.8 388.8 1049.8 389.2 1046.2 393.2 1046.2 393.5 1043.5 396.2 1043.5 396.5 1034.2 405.5 1031.2 407.5 1027.8 409.2 1027.2 409.2 1025.8 409.8 1024.5 409.8 1024.2 410.2 1020.2 410.2 1019.8 409.8 1018.5 409.8 1018.2 409.5 1016.5 409.2 1013.2 407.5 1008.5 404.2 1000.8 396.5 1000.8 396.2 998.5 393.8 998.5 393.5 990.2 384.2 990.2 383.8z"/><path fill="#3ce634" fill-rule="evenodd" d="M1073.2 370.5 1072.8 370.8 1071.5 370.8 1071.2 371.2 1069.5 371.5 1066.2 373.2 1061.2 376.8 1054.5 383.5 1054.5 383.8 1051.8 386.5 1051.8 386.8 1049.8 388.8 1049.8 389.2 1046.2 393.2 1046.2 393.5 1043.5 396.2 1043.5 396.5 1036.2 403.8 1031.2 407.5 1030.2 407.8 1029.5 408.5 1028.5 408.8 1027.8 409.5 1022.5 412.5 1025.5 414.5 1027.8 415.5 1031.2 417.8 1034.5 419.5 1036.2 420.8 1036.8 420.8 1040.2 423.2 1042.5 424.2 1045.8 426.5 1046.5 426.5 1049.8 428.8 1052.2 429.8 1053.8 431.2 1056.2 432.2 1059.5 434.5 1060.2 434.5 1063.5 436.8 1064.2 436.8 1067.5 439.2 1068.2 439.2 1068.8 439.8 1073.8 442.5 1074.5 443.2 1075.8 443.5 1076.5 442.8 1078.2 442.2 1080.5 440.5 1082.2 439.8 1084.5 438.2 1086.2 437.5 1086.8 436.8 1090.2 435.2 1094.2 432.5 1095.8 431.8 1098.2 430.2 1099.8 429.5 1102.2 427.8 1103.8 427.2 1106.2 425.5 1107.8 424.8 1111.8 422.2 1113.5 421.5 1115.8 419.8 1117.5 419.2 1119.8 417.5 1121.5 416.8 1122.2 416.2 1128.2 412.8 1125.2 410.8 1120.2 408.2 1119.5 407.5 1118.5 407.2 1116.2 405.5 1114.5 403.8 1114.2 403.8 1107.8 397.5 1107.8 397.2 1103.2 392.2 1101.5 389.8 1099.5 387.8 1097.5 385.2 1094.2 381.8 1094.2 381.5 1088.2 375.8 1083.8 372.8 1080.2 371.2 1079.2 371.2 1077.5 370.5zM967.5 370.2 967.2 370.5 965.5 370.5 965.2 370.8 962.5 371.5 958.8 373.5 956.2 375.5 948.8 382.5 948.8 382.8 943.8 388.2 943.8 388.5 937.8 395.2 937.8 395.5 929.2 404.2 925.5 406.8 924.5 407.2 923.8 407.8 922.8 408.2 922.2 408.8 916.2 412.2 919.2 414.2 920.2 414.5 920.8 415.2 924.2 416.8 924.8 417.5 927.2 418.5 928.8 419.8 931.2 420.8 932.8 422.2 935.2 423.2 936.8 424.5 939.2 425.5 942.5 427.8 943.2 427.8 946.5 430.2 948.8 431.2 950.5 432.5 952.8 433.5 956.2 435.8 958.5 436.8 960.2 438.2 961.8 438.8 965.8 441.5 967.5 442.2 968.8 443.2 969.5 443.2 971.5 441.8 973.2 441.2 973.8 440.5 975.5 439.8 977.8 438.2 979.5 437.5 981.8 435.8 983.5 435.2 985.8 433.5 987.5 432.8 989.8 431.2 991.5 430.5 993.8 428.8 995.5 428.2 997.8 426.5 999.5 425.8 1003.5 423.2 1005.2 422.5 1005.8 421.8 1009.2 420.2 1009.8 419.5 1010.8 419.2 1011.5 418.5 1014.8 416.8 1015.5 416.2 1016.5 415.8 1017.2 415.2 1018.2 414.8 1018.8 414.2 1020.5 413.5 1021.8 412.5 1016.5 409.5 1015.8 408.8 1014.8 408.5 1014.2 407.8 1013.2 407.5 1008.5 404.2 1000.8 396.5 1000.8 396.2 998.5 393.8 998.5 393.5 990.2 384.2 990.2 383.8 980.5 374.5 974.5 371.2 972.5 370.8 972.2 370.5 970.8 370.5 970.5 370.2z"/><path fill="#6aea24" fill-rule="evenodd" d="M1077.5 370.5 1073.2 370.5 1072.8 370.8 1071.5 370.8 1071.2 371.2 1069.5 371.5 1066.2 373.2 1061.2 376.8 1054.5 383.5 1054.5 383.8 1051.8 386.5 1051.8 386.8 1049.8 388.8 1049.8 389.2 1046.2 393.2 1046.2 393.5 1043.5 396.2 1043.5 396.5 1036.5 403.5 1034.8 406.8 1035.2 408.8 1035.8 410.2 1039.8 414.2 1042.2 415.5 1043.5 416.8 1045.5 418.2 1048.2 419.5 1049.2 420.5 1049.8 420.5 1053.2 422.8 1065.2 428.8 1066.2 428.8 1068.2 429.8 1069.2 429.8 1070.8 430.5 1074.5 430.8 1074.8 431.2 1075.2 430.8 1078.2 430.8 1078.5 430.5 1078.8 430.8 1079.2 430.5 1081.8 430.2 1083.8 429.2 1084.8 429.2 1088.8 427.2 1089.5 427.2 1092.2 425.8 1092.8 425.2 1094.2 424.8 1094.8 424.2 1095.5 424.2 1097.2 422.8 1097.8 422.8 1100.2 421.2 1101.8 420.5 1102.2 419.8 1103.8 419.2 1106.5 417.2 1107.5 416.8 1108.5 415.8 1109.8 415.2 1111.5 413.5 1111.8 413.5 1114.5 410.8 1115.8 407.5 1115.5 405.8 1114.5 404.2 1107.8 397.5 1107.8 397.2 1103.2 392.2 1103.2 391.8 1097.5 385.5 1097.5 385.2 1090.8 378.2 1090.5 378.2 1088.2 375.8 1083.8 372.8 1080.2 371.2 1079.2 371.2zM967.5 370.2 967.2 370.5 965.5 370.5 960.5 372.5 954.2 377.2 948.8 382.5 948.8 382.8 943.8 388.2 943.8 388.5 937.8 395.2 937.8 395.5 930.2 403.2 928.8 405.5 928.5 407.5 929.5 409.8 930.5 411.2 933.8 414.2 939.5 417.8 940.5 418.8 941.2 418.8 942.2 419.8 942.8 419.8 945.5 421.8 946.8 422.2 947.8 423.2 952.8 425.5 953.5 426.2 954.2 426.2 954.8 426.8 955.8 426.8 956.5 427.5 957.2 427.5 961.5 429.5 962.5 429.5 962.8 429.8 965.2 430.2 965.5 430.5 967.8 430.5 968.2 430.8 968.8 430.5 969.2 430.8 970.2 430.8 970.5 430.5 973.2 430.5 975.5 429.5 977.5 429.2 978.5 428.5 978.8 428.8 980.2 427.8 982.5 427.2 988.5 424.2 989.2 423.5 989.8 423.5 993.2 421.2 995.5 420.2 997.2 418.8 998.2 418.5 1000.2 416.8 1000.8 416.8 1002.2 415.5 1005.2 413.5 1008.2 410.5 1009.2 408.5 1009.2 405.8 1007.8 403.5 1000.8 396.5 1000.8 396.2 998.5 393.8 998.5 393.5 990.2 384.2 990.2 383.8 982.5 376.2 982.2 376.2 979.5 373.8 974.5 371.2 972.5 370.8 972.2 370.5 970.8 370.5 970.5 370.2z"/><path fill="#bcf018" fill-rule="evenodd" d="M1073.2 370.5 1072.8 370.8 1071.5 370.8 1071.2 371.2 1069.5 371.5 1064.2 374.5 1061.5 376.8 1061.2 376.8 1054.5 383.5 1054.5 383.8 1051.8 386.5 1051.8 386.8 1049.8 388.8 1048.2 391.2 1042.2 397.8 1040.8 400.2 1040.8 403.5 1042.2 406.2 1045.5 409.5 1049.5 412.5 1050.5 412.8 1053.2 414.8 1053.8 414.8 1054.8 415.8 1065.8 420.8 1066.2 420.5 1068.2 421.5 1071.5 421.8 1071.8 422.2 1075.5 422.2 1076.2 422.5 1076.5 422.2 1081.5 421.8 1082.8 421.2 1085.2 420.8 1086.2 420.2 1088.5 419.5 1091.5 417.8 1092.2 417.8 1093.5 416.8 1094.8 416.5 1096.5 415.2 1097.8 414.8 1098.8 413.8 1101.5 412.5 1102.8 411.2 1104.2 410.5 1105.8 408.8 1106.2 408.8 1108.8 405.8 1109.8 403.8 1109.8 400.5 1107.8 397.2 1103.2 392.2 1103.2 391.8 1097.5 385.5 1097.5 385.2 1094.2 381.8 1094.2 381.5 1088.2 375.8 1083.8 372.8 1080.2 371.2 1079.2 371.2 1077.5 370.5zM967.5 370.2 967.2 370.5 965.5 370.5 965.2 370.8 962.5 371.5 958.8 373.5 954.5 377.2 954.2 377.2 948.8 382.5 948.8 382.8 946.2 385.5 946.2 385.8 943.8 388.2 943.8 388.5 940.2 392.5 940.2 392.8 935.8 397.5 934.5 399.8 934.5 403.5 937.2 407.5 937.5 407.5 939.5 409.5 943.5 412.2 944.5 413.2 948.5 415.2 950.2 416.5 950.8 416.5 952.2 417.5 952.8 417.5 956.5 419.5 957.5 419.5 961.5 421.2 961.8 420.8 962.8 421.5 966.5 421.8 966.8 422.2 967.2 421.8 967.5 422.2 968.2 421.8 968.5 422.2 971.2 422.2 971.5 421.8 973.5 421.8 973.8 421.5 974.8 421.5 976.5 420.8 977.8 420.8 978.8 420.2 979.8 420.2 981.5 419.2 983.2 418.8 983.8 418.2 985.5 417.8 986.8 416.8 989.8 415.5 990.5 414.8 991.5 414.5 993.2 413.2 995.2 412.2 999.2 408.8 999.5 408.8 1001.8 406.5 1003.5 403.5 1003.5 400.5 1002.2 397.8 992.5 386.8 992.5 386.5 982.5 376.2 982.2 376.2 979.5 373.8 974.5 371.2 972.5 370.8 972.2 370.5 970.8 370.5 970.5 370.2z"/><path fill="#ecf010" fill-rule="evenodd" d="M1073.2 370.5 1072.8 370.8 1071.5 370.8 1071.2 371.2 1069.5 371.5 1066.2 373.2 1061.2 376.8 1054.5 383.5 1054.5 383.8 1051.8 386.5 1051.8 386.8 1046.8 392.5 1045.5 395.5 1045.5 397.8 1046.5 400.2 1048.2 402.5 1048.5 402.5 1048.8 403.2 1049.2 403.2 1051.2 405.2 1052.5 406.2 1053.5 406.5 1054.5 407.5 1055.2 407.5 1057.5 409.2 1058.2 409.2 1058.8 409.8 1060.8 410.8 1061.5 410.8 1063.2 411.8 1064.8 412.2 1065.8 412.8 1066.2 412.5 1066.5 412.8 1069.8 413.5 1070.2 413.8 1072.2 413.8 1072.5 414.2 1072.8 413.8 1073.2 414.2 1078.5 414.2 1078.8 413.8 1080.5 413.8 1080.8 413.5 1082.2 413.5 1082.5 413.2 1084.8 412.8 1085.2 412.5 1086.8 412.2 1087.8 411.5 1089.5 411.2 1090.2 410.5 1090.8 410.5 1096.8 407.2 1097.8 406.2 1100.2 404.8 1100.2 404.5 1100.8 404.2 1104.2 400.5 1105.2 398.2 1105.2 395.8 1104.8 395.5 1104.5 393.8 1101.5 389.8 1099.5 387.8 1097.5 385.2 1094.2 381.8 1094.2 381.5 1088.2 375.8 1083.8 372.8 1080.2 371.2 1079.2 371.2 1077.5 370.5zM967.5 370.2 967.2 370.5 965.5 370.5 960.5 372.5 954.2 377.2 948.8 382.5 948.8 382.8 946.2 385.5 946.2 385.8 940.5 392.2 939.2 395.2 939.2 397.8 940.5 400.5 943.5 403.8 947.2 406.5 948.2 406.8 949.2 407.8 952.2 409.2 952.8 409.8 953.5 409.8 957.5 411.8 959.5 412.2 961.8 413.2 963.2 413.2 963.5 413.5 965.2 413.5 965.5 413.8 973.2 413.8 973.5 413.5 974.8 413.5 975.2 413.2 976.5 413.2 977.8 412.5 978.8 412.5 979.2 412.2 980.8 411.8 981.8 411.2 982.5 411.2 983.2 410.5 984.2 410.5 984.8 409.8 986.2 409.5 991.2 406.2 992.2 405.8 993.5 404.5 993.8 404.5 997.8 400.2 998.8 397.5 998.8 395.5 997.5 392.5 990.2 384.2 990.2 383.8 982.5 376.2 982.2 376.2 979.5 373.8 974.5 371.2 972.5 370.8 972.2 370.5 970.8 370.5 970.5 370.2z"/><path fill="#f8c018" fill-rule="evenodd" d="M1050.2 389.5 1050.2 393.2 1051.2 395.2 1052.2 396.5 1055.8 399.8 1056.8 400.2 1057.8 401.2 1064.2 404.2 1064.8 404.2 1068.2 405.5 1071.5 405.8 1071.8 406.2 1078.2 406.2 1078.5 405.8 1078.8 406.2 1079.2 405.8 1081.2 405.8 1081.5 405.5 1082.8 405.5 1084.2 404.8 1085.2 404.8 1087.8 403.5 1088.5 403.5 1091.2 402.2 1091.8 401.5 1092.5 401.5 1095.5 399.5 1099.2 395.8 1100.5 393.2 1100.5 389.8 1099.2 387.2 1090.8 378.2 1090.5 378.2 1088.2 375.8 1083.8 372.8 1080.2 371.2 1079.2 371.2 1077.5 370.5 1073.2 370.5 1072.8 370.8 1071.5 370.8 1071.2 371.2 1069.5 371.5 1064.2 374.5 1061.5 376.8 1061.2 376.8 1054.5 383.5 1054.5 383.8 1051.2 387.5zM943.8 389.5 943.8 392.8 944.5 394.5 945.5 395.8 949.8 399.8 950.8 400.5 951.5 400.5 953.8 402.2 955.2 402.8 955.8 402.8 957.5 403.8 958.2 403.8 961.5 405.2 962.8 405.2 963.2 405.5 964.5 405.5 964.8 405.8 967.5 405.8 967.8 406.2 968.2 405.8 970.2 406.2 970.5 405.8 975.5 405.5 976.8 404.8 977.8 404.8 979.8 403.8 980.8 403.8 981.5 403.2 982.2 403.2 984.5 401.8 985.2 401.8 990.8 397.8 993.2 395.2 994.2 392.8 994.2 389.5 992.5 386.5 982.5 376.2 977.8 372.8 974.5 371.2 972.5 370.8 972.2 370.5 970.8 370.5 970.5 370.2 965.5 370.5 965.2 370.8 962.5 371.5 958.8 373.5 954.5 377.2 954.2 377.2 948.8 382.5 948.8 382.8 944.8 387.2z"/><path fill="#f8921a" fill-rule="evenodd" d="M1054.8 384.2 1054.8 385.5 1054.5 385.8 1054.8 386.5 1054.8 387.8 1055.8 389.8 1059.2 393.2 1061.2 394.2 1061.8 394.8 1062.5 394.8 1063.2 395.5 1064.5 395.8 1066.2 396.8 1067.2 396.8 1068.5 397.5 1070.2 397.5 1071.5 398.2 1071.8 397.8 1072.5 398.2 1078.5 398.2 1078.8 397.8 1080.8 397.8 1081.2 397.5 1082.2 397.5 1082.5 397.2 1084.5 396.8 1085.5 396.2 1087.2 395.8 1089.2 394.5 1090.8 393.8 1092.5 392.2 1092.8 392.2 1094.5 390.5 1095.8 387.8 1095.8 384.5 1094.8 382.5 1090.8 378.2 1090.5 378.2 1088.2 375.8 1083.8 372.8 1080.2 371.2 1079.2 371.2 1077.5 370.5 1073.2 370.5 1072.8 370.8 1071.5 370.8 1066.2 373.2 1061.2 376.8 1056.2 381.8zM948.5 383.8 948.2 386.2 948.5 386.5 948.8 388.5 949.5 389.2 949.8 390.2 951.8 392.2 954.8 394.2 958.2 395.8 959.8 396.2 960.8 396.8 961.8 396.8 963.2 397.5 967.8 397.8 968.2 398.2 968.5 397.8 972.5 397.8 972.8 397.5 973.2 397.8 973.5 397.5 975.2 397.5 975.5 397.2 976.5 397.2 977.5 396.5 980.2 395.8 983.5 394.2 985.8 392.5 988.2 390.2 989.5 387.5 989.5 384.2 988.5 382.2 982.5 376.2 977.8 372.8 974.5 371.2 972.5 370.8 972.2 370.5 970.8 370.5 970.5 370.2 965.5 370.5 965.2 370.8 962.5 371.5 958.8 373.5 954.5 377.2 954.2 377.2 949.8 381.5z"/><path fill="#f05414" fill-rule="evenodd" d="M1059.8 379.5 1059.8 381.8 1060.2 382.2 1060.2 382.8 1062.2 385.5 1062.5 385.5 1063.8 386.8 1067.2 388.5 1069.2 388.8 1071.8 389.8 1072.5 389.5 1072.8 389.8 1078.2 389.8 1078.5 389.5 1078.8 389.8 1079.2 389.5 1081.5 389.2 1081.8 388.8 1083.5 388.5 1084.5 387.8 1085.2 387.8 1088.2 385.8 1089.8 384.2 1090.8 382.2 1090.8 379.8 1090.5 379.5 1090.5 378.8 1089.5 377.2 1088.2 375.8 1083.8 372.8 1080.2 371.2 1079.2 371.2 1077.5 370.5 1073.2 370.5 1072.8 370.8 1071.5 370.8 1066.2 373.2 1062.8 375.5 1060.8 377.5zM953.5 379.2 953.5 381.8 954.5 383.8 956.5 385.8 958.5 386.8 959.2 387.5 959.8 387.5 961.5 388.5 962.5 388.5 964.2 389.2 965.5 389.2 965.8 389.5 968.2 389.5 968.5 389.8 968.8 389.5 972.5 389.5 972.8 389.2 974.5 389.2 974.8 388.8 976.5 388.5 977.5 387.8 978.2 387.8 981.2 386.2 983.5 383.8 984.5 381.8 984.5 379.5 984.2 379.2 984.2 378.5 980.8 374.8 977.8 372.8 974.5 371.2 972.5 370.8 972.2 370.5 970.8 370.5 970.5 370.2 965.5 370.5 960.5 372.5 956.2 375.5 954.5 377.2z"/><path fill="#ee2214" fill-rule="evenodd" d="M1061.2 378.8 1061.5 381.2 1062.5 382.8 1063.8 384.2 1067.8 386.5 1070.2 386.8 1071.5 387.5 1073.2 387.5 1073.5 387.8 1073.8 387.5 1074.2 387.8 1074.8 387.5 1075.2 387.8 1079.2 387.5 1079.5 387.2 1080.8 387.2 1081.2 386.8 1082.2 386.8 1083.2 386.2 1083.8 386.2 1084.5 385.5 1086.5 384.5 1088.5 382.5 1089.5 380.2 1089.2 377.8 1088.2 376.2 1086.8 374.8 1081.8 371.8 1081.2 371.8 1080.2 371.2 1077.8 370.8 1077.5 370.5 1073.2 370.5 1072.8 370.8 1071.5 370.8 1066.2 373.2 1064.2 374.5 1062.2 376.5zM954.8 378.5 954.8 379.8 955.8 382.2 957.8 384.2 959.8 385.5 960.5 385.5 961.5 386.2 962.2 386.2 963.5 386.8 964.5 386.8 964.8 387.2 966.5 387.2 966.8 387.5 967.2 387.2 967.5 387.5 970.8 387.5 971.2 387.2 971.8 387.5 972.2 387.2 973.5 387.2 973.8 386.8 974.8 386.8 976.8 385.8 977.5 385.8 979.8 384.5 982.2 382.2 983.2 379.8 983.2 378.8 982.8 378.5 982.5 376.8 981.5 375.5 979.5 373.8 974.5 371.2 972.5 370.8 972.2 370.5 970.8 370.5 970.5 370.2 965.5 370.5 960.5 372.5 957.5 374.5 955.8 376.2z"/><polyline points="915.8,460.0 1022.5,522.5 1128.5,460.5" stroke="#333" stroke-width="1" fill="none"/><text transform="translate(908.4,467.1) scale(1.12,1)" font-family='"Liberation Sans", sans-serif' font-size="8.4" font-weight="bold" fill="#4a4a4a" text-anchor="middle">0.0</text><text transform="translate(929.1,479.3) scale(1.12,1)" font-family='"Liberation Sans", sans-serif' font-size="8.4" font-weight="bold" fill="#4a4a4a" text-anchor="middle">0.2</text><text transform="translate(950.5,492.0) scale(1.12,1)" font-family='"Liberation Sans", sans-serif' font-size="8.4" font-weight="bold" fill="#4a4a4a" text-anchor="middle">0.4</text><text transform="translate(972.0,504.3) scale(1.12,1)" font-family='"Liberation Sans", sans-serif' font-size="8.4" font-weight="bold" fill="#4a4a4a" text-anchor="middle">0.6</text><text transform="translate(993.1,516.1) scale(1.12,1)" font-family='"Liberation Sans", sans-serif' font-size="8.4" font-weight="bold" fill="#4a4a4a" text-anchor="middle">0.8</text><text transform="translate(1015.6,528.8) scale(1.12,1)" font-family='"Liberation Sans", sans-serif' font-size="8.4" font-weight="bold" fill="#4a4a4a" text-anchor="middle">1.0</text><text transform="translate(1029.4,528.8) scale(1.12,1)" font-family='"Liberation Sans", sans-serif' font-size="8.4" font-weight="bold" fill="#4a4a4a" text-anchor="middle">0.0</text><text transform="translate(1050.3,516.4) scale(1.12,1)" font-family='"Liberation Sans", sans-serif' font-size="8.4" font-weight="bold" fill="#4a4a4a" text-anchor="middle">0.2</text><text transform="translate(1071.5,504.7) scale(1.12,1)" font-family='"Liberation Sans", sans-serif' font-size="8.4" font-weight="bold" fill="#4a4a4a" text-anchor="middle">0.4</text><text transform="translate(1092.4,492.2) scale(1.12,1)" font-family='"Liberation Sans", sans-serif' font-size="8.4" font-weight="bold" fill="#4a4a4a" text-anchor="middle">0.6</text><text transform="translate(1114.0,479.6) scale(1.12,1)" font-family='"Liberation Sans", sans-serif' font-size="8.4" font-weight="bold" fill="#4a4a4a" text-anchor="middle">0.8</text><text transform="translate(1135.7,467.3) scale(1.12,1)" font-family='"Liberation Sans", sans-serif' font-size="8.4" font-weight="bold" fill="#4a4a4a" text-anchor="middle">1.0</text><text transform="translate(956.4,507.5) rotate(30) scale(1,1)" font-family='"Liberation Sans", sans-serif' font-size="9" font-weight="bold" fill="#333" text-anchor="middle">x</text><text transform="translate(1090.3,506.5) rotate(-30) scale(1,1)" font-family='"Liberation Sans", sans-serif' font-size="9" font-weight="bold" fill="#333" text-anchor="middle">y</text><text transform="translate(1149.5,371.7) scale(1.1,1)" font-family='"Liberation Sans", sans-serif' font-size="8.4" font-weight="bold" fill="#4a4a4a" text-anchor="end">0.18</text><text transform="translate(1149.5,386.3) scale(1.1,1)" font-family='"Liberation Sans", sans-serif' font-size="8.4" font-weight="bold" fill="#4a4a4a" text-anchor="end">0.12</text><text transform="translate(1149.5,401.0) scale(1.1,1)" font-family='"Liberation Sans", sans-serif' font-size="8.4" font-weight="bold" fill="#4a4a4a" text-anchor="end">0.06</text><text transform="translate(1149.5,415.6) scale(1.1,1)" font-family='"Liberation Sans", sans-serif' font-size="8.4" font-weight="bold" fill="#4a4a4a" text-anchor="end">0.00</text><text transform="translate(1149.5,430.3) scale(1.1,1)" font-family='"Liberation Sans", sans-serif' font-size="8.4" font-weight="bold" fill="#4a4a4a" text-anchor="end">-0.06</text><text transform="translate(1149.5,444.9) scale(1.1,1)" font-family='"Liberation Sans", sans-serif' font-size="8.4" font-weight="bold" fill="#4a4a4a" text-anchor="end">-0.12</text><text transform="translate(1149.5,459.6) scale(1.1,1)" font-family='"Liberation Sans", sans-serif' font-size="8.4" font-weight="bold" fill="#4a4a4a" text-anchor="end">-0.18</text><text transform="translate(1161.5,426.0) rotate(-90) scale(1.0,1)" font-family='"Liberation Sans", sans-serif' font-size="9" font-weight="bold" fill="#4a4a4a" text-anchor="middle">u(x,y,3.2)</text><rect x="1164.6" y="338.90" width="12.6" height="5.73" fill="#ee2214"/><rect x="1164.6" y="344.33" width="12.6" height="11.15" fill="#f05414"/><rect x="1164.6" y="355.18" width="12.6" height="11.15" fill="#f8921a"/><rect x="1164.6" y="366.03" width="12.6" height="11.15" fill="#f8c018"/><rect x="1164.6" y="376.89" width="12.6" height="11.15" fill="#ecf010"/><rect x="1164.6" y="387.74" width="12.6" height="11.15" fill="#bcf018"/><rect x="1164.6" y="398.59" width="12.6" height="11.15" fill="#6aea24"/><rect x="1164.6" y="409.45" width="12.6" height="11.15" fill="#3ce634"/><rect x="1164.6" y="420.30" width="12.6" height="11.15" fill="#28e244"/><rect x="1164.6" y="431.15" width="12.6" height="11.15" fill="#18e468"/><rect x="1164.6" y="442.01" width="12.6" height="11.15" fill="#10eab0"/><rect x="1164.6" y="452.86" width="12.6" height="11.15" fill="#10e4f6"/><rect x="1164.6" y="463.71" width="12.6" height="11.15" fill="#10acf2"/><rect x="1164.6" y="474.57" width="12.6" height="11.15" fill="#1464f2"/><rect x="1164.6" y="485.42" width="12.6" height="11.15" fill="#1428ec"/><rect x="1164.6" y="496.27" width="12.6" height="5.73" fill="#1420e8"/><text transform="translate(1203.0,347.5) scale(1.12,1)" font-family='"Liberation Sans", sans-serif' font-size="8.6" font-weight="bold" fill="#4a4a4a" text-anchor="end">0.14</text><text transform="translate(1203.0,358.4) scale(1.12,1)" font-family='"Liberation Sans", sans-serif' font-size="8.6" font-weight="bold" fill="#4a4a4a" text-anchor="end">0.12</text><text transform="translate(1203.0,369.3) scale(1.12,1)" font-family='"Liberation Sans", sans-serif' font-size="8.6" font-weight="bold" fill="#4a4a4a" text-anchor="end">0.10</text><text transform="translate(1203.0,380.2) scale(1.12,1)" font-family='"Liberation Sans", sans-serif' font-size="8.6" font-weight="bold" fill="#4a4a4a" text-anchor="end">0.08</text><text transform="translate(1203.0,391.1) scale(1.12,1)" font-family='"Liberation Sans", sans-serif' font-size="8.6" font-weight="bold" fill="#4a4a4a" text-anchor="end">0.06</text><text transform="translate(1203.0,402.0) scale(1.12,1)" font-family='"Liberation Sans", sans-serif' font-size="8.6" font-weight="bold" fill="#4a4a4a" text-anchor="end">0.04</text><text transform="translate(1203.0,412.9) scale(1.12,1)" font-family='"Liberation Sans", sans-serif' font-size="8.6" font-weight="bold" fill="#4a4a4a" text-anchor="end">0.02</text><text transform="translate(1203.0,423.8) scale(1.12,1)" font-family='"Liberation Sans", sans-serif' font-size="8.6" font-weight="bold" fill="#4a4a4a" text-anchor="end">0.00</text><text transform="translate(1203.0,434.7) scale(1.12,1)" font-family='"Liberation Sans", sans-serif' font-size="8.6" font-weight="bold" fill="#4a4a4a" text-anchor="end">-0.02</text><text transform="translate(1203.0,445.6) scale(1.12,1)" font-family='"Liberation Sans", sans-serif' font-size="8.6" font-weight="bold" fill="#4a4a4a" text-anchor="end">-0.04</text><text transform="translate(1203.0,456.5) scale(1.12,1)" font-family='"Liberation Sans", sans-serif' font-size="8.6" font-weight="bold" fill="#4a4a4a" text-anchor="end">-0.06</text><text transform="translate(1203.0,467.4) scale(1.12,1)" font-family='"Liberation Sans", sans-serif' font-size="8.6" font-weight="bold" fill="#4a4a4a" text-anchor="end">-0.08</text><text transform="translate(1203.0,478.3) scale(1.12,1)" font-family='"Liberation Sans", sans-serif' font-size="8.6" font-weight="bold" fill="#4a4a4a" text-anchor="end">-0.10</text><text transform="translate(1203.0,489.2) scale(1.12,1)" font-family='"Liberation Sans", sans-serif' font-size="8.6" font-weight="bold" fill="#4a4a4a" text-anchor="end">-0.12</text><text transform="translate(1203.0,500.1) scale(1.12,1)" font-family='"Liberation Sans", sans-serif' font-size="8.6" font-weight="bold" fill="#4a4a4a" text-anchor="end">-0.14</text></g>
</svg></body></html>
